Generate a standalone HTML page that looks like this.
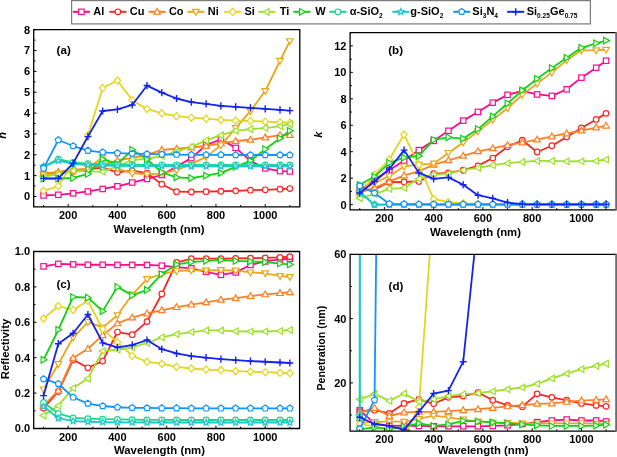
<!DOCTYPE html><html><head><meta charset="utf-8"><style>html,body{margin:0;padding:0;background:#fff;width:617px;height:457px;overflow:hidden}svg{display:block;will-change:transform}text{font-family:"Liberation Sans",sans-serif;font-weight:bold}</style></head><body><svg width="617" height="457" viewBox="0 0 617 457" font-family="Liberation Sans, sans-serif" font-weight="bold">
<rect width="617" height="457" fill="#fff"/>
<clipPath id="clipa"><rect x="33.7" y="29.7" width="266.1" height="177.20000000000002"/></clipPath>
<text x="56.60" y="54.40" font-size="11.6" text-anchor="start" >(a)</text>
<g clip-path="url(#clipa)">
<polyline points="43.55,195.43 58.33,194.81 73.11,193.35 87.89,191.47 102.66,188.97 117.44,186.26 132.22,182.51 147.00,178.96 161.78,175.00 176.55,166.46 191.33,158.12 206.11,144.98 220.89,139.36 235.67,147.90 250.44,160.83 265.22,168.33 280.00,171.04 289.85,171.46" fill="none" stroke="#ff0a8c" stroke-width="1.8" stroke-linejoin="round"/>
<rect x="40.85" y="192.73" width="5.40" height="5.40" stroke="#ff0a8c" stroke-width="1.2" fill="#fff"/>
<rect x="55.63" y="192.11" width="5.40" height="5.40" stroke="#ff0a8c" stroke-width="1.2" fill="#fff"/>
<rect x="70.41" y="190.65" width="5.40" height="5.40" stroke="#ff0a8c" stroke-width="1.2" fill="#fff"/>
<rect x="85.19" y="188.77" width="5.40" height="5.40" stroke="#ff0a8c" stroke-width="1.2" fill="#fff"/>
<rect x="99.96" y="186.27" width="5.40" height="5.40" stroke="#ff0a8c" stroke-width="1.2" fill="#fff"/>
<rect x="114.74" y="183.56" width="5.40" height="5.40" stroke="#ff0a8c" stroke-width="1.2" fill="#fff"/>
<rect x="129.52" y="179.81" width="5.40" height="5.40" stroke="#ff0a8c" stroke-width="1.2" fill="#fff"/>
<rect x="144.30" y="176.26" width="5.40" height="5.40" stroke="#ff0a8c" stroke-width="1.2" fill="#fff"/>
<rect x="159.08" y="172.30" width="5.40" height="5.40" stroke="#ff0a8c" stroke-width="1.2" fill="#fff"/>
<rect x="173.85" y="163.76" width="5.40" height="5.40" stroke="#ff0a8c" stroke-width="1.2" fill="#fff"/>
<rect x="188.63" y="155.42" width="5.40" height="5.40" stroke="#ff0a8c" stroke-width="1.2" fill="#fff"/>
<rect x="203.41" y="142.28" width="5.40" height="5.40" stroke="#ff0a8c" stroke-width="1.2" fill="#fff"/>
<rect x="218.19" y="136.66" width="5.40" height="5.40" stroke="#ff0a8c" stroke-width="1.2" fill="#fff"/>
<rect x="232.97" y="145.20" width="5.40" height="5.40" stroke="#ff0a8c" stroke-width="1.2" fill="#fff"/>
<rect x="247.74" y="158.13" width="5.40" height="5.40" stroke="#ff0a8c" stroke-width="1.2" fill="#fff"/>
<rect x="262.52" y="165.63" width="5.40" height="5.40" stroke="#ff0a8c" stroke-width="1.2" fill="#fff"/>
<rect x="277.30" y="168.34" width="5.40" height="5.40" stroke="#ff0a8c" stroke-width="1.2" fill="#fff"/>
<rect x="287.15" y="168.76" width="5.40" height="5.40" stroke="#ff0a8c" stroke-width="1.2" fill="#fff"/>
<polyline points="43.55,172.92 58.33,173.54 73.11,171.46 87.89,169.38 102.66,167.50 117.44,172.29 132.22,170.63 147.00,173.13 161.78,184.18 176.55,191.68 191.33,191.89 206.11,191.68 220.89,191.26 235.67,190.85 250.44,190.22 265.22,189.81 280.00,189.18 289.85,188.55" fill="none" stroke="#ff2424" stroke-width="1.8" stroke-linejoin="round"/>
<circle cx="43.55" cy="172.92" r="2.8" stroke="#ff2424" stroke-width="1.2" fill="#fff"/>
<circle cx="58.33" cy="173.54" r="2.8" stroke="#ff2424" stroke-width="1.2" fill="#fff"/>
<circle cx="73.11" cy="171.46" r="2.8" stroke="#ff2424" stroke-width="1.2" fill="#fff"/>
<circle cx="87.89" cy="169.38" r="2.8" stroke="#ff2424" stroke-width="1.2" fill="#fff"/>
<circle cx="102.66" cy="167.50" r="2.8" stroke="#ff2424" stroke-width="1.2" fill="#fff"/>
<circle cx="117.44" cy="172.29" r="2.8" stroke="#ff2424" stroke-width="1.2" fill="#fff"/>
<circle cx="132.22" cy="170.63" r="2.8" stroke="#ff2424" stroke-width="1.2" fill="#fff"/>
<circle cx="147.00" cy="173.13" r="2.8" stroke="#ff2424" stroke-width="1.2" fill="#fff"/>
<circle cx="161.78" cy="184.18" r="2.8" stroke="#ff2424" stroke-width="1.2" fill="#fff"/>
<circle cx="176.55" cy="191.68" r="2.8" stroke="#ff2424" stroke-width="1.2" fill="#fff"/>
<circle cx="191.33" cy="191.89" r="2.8" stroke="#ff2424" stroke-width="1.2" fill="#fff"/>
<circle cx="206.11" cy="191.68" r="2.8" stroke="#ff2424" stroke-width="1.2" fill="#fff"/>
<circle cx="220.89" cy="191.26" r="2.8" stroke="#ff2424" stroke-width="1.2" fill="#fff"/>
<circle cx="235.67" cy="190.85" r="2.8" stroke="#ff2424" stroke-width="1.2" fill="#fff"/>
<circle cx="250.44" cy="190.22" r="2.8" stroke="#ff2424" stroke-width="1.2" fill="#fff"/>
<circle cx="265.22" cy="189.81" r="2.8" stroke="#ff2424" stroke-width="1.2" fill="#fff"/>
<circle cx="280.00" cy="189.18" r="2.8" stroke="#ff2424" stroke-width="1.2" fill="#fff"/>
<circle cx="289.85" cy="188.55" r="2.8" stroke="#ff2424" stroke-width="1.2" fill="#fff"/>
<polyline points="43.55,173.54 58.33,171.88 73.11,169.79 87.89,168.75 102.66,165.21 117.44,160.41 132.22,157.91 147.00,154.78 161.78,149.78 176.55,148.74 191.33,147.49 206.11,145.82 220.89,143.32 235.67,141.02 250.44,139.77 265.22,137.48 280.00,135.19 289.85,134.98" fill="none" stroke="#ff8024" stroke-width="1.8" stroke-linejoin="round"/>
<polygon points="43.55,170.14 46.85,175.94 40.25,175.94" stroke="#ff8024" stroke-width="1.2" fill="#fff" stroke-linejoin="miter"/>
<polygon points="58.33,168.48 61.63,174.28 55.03,174.28" stroke="#ff8024" stroke-width="1.2" fill="#fff" stroke-linejoin="miter"/>
<polygon points="73.11,166.39 76.41,172.19 69.81,172.19" stroke="#ff8024" stroke-width="1.2" fill="#fff" stroke-linejoin="miter"/>
<polygon points="87.89,165.35 91.19,171.15 84.59,171.15" stroke="#ff8024" stroke-width="1.2" fill="#fff" stroke-linejoin="miter"/>
<polygon points="102.66,161.81 105.96,167.61 99.36,167.61" stroke="#ff8024" stroke-width="1.2" fill="#fff" stroke-linejoin="miter"/>
<polygon points="117.44,157.01 120.74,162.81 114.14,162.81" stroke="#ff8024" stroke-width="1.2" fill="#fff" stroke-linejoin="miter"/>
<polygon points="132.22,154.51 135.52,160.31 128.92,160.31" stroke="#ff8024" stroke-width="1.2" fill="#fff" stroke-linejoin="miter"/>
<polygon points="147.00,151.38 150.30,157.18 143.70,157.18" stroke="#ff8024" stroke-width="1.2" fill="#fff" stroke-linejoin="miter"/>
<polygon points="161.78,146.38 165.08,152.18 158.48,152.18" stroke="#ff8024" stroke-width="1.2" fill="#fff" stroke-linejoin="miter"/>
<polygon points="176.55,145.34 179.85,151.14 173.25,151.14" stroke="#ff8024" stroke-width="1.2" fill="#fff" stroke-linejoin="miter"/>
<polygon points="191.33,144.09 194.63,149.89 188.03,149.89" stroke="#ff8024" stroke-width="1.2" fill="#fff" stroke-linejoin="miter"/>
<polygon points="206.11,142.42 209.41,148.22 202.81,148.22" stroke="#ff8024" stroke-width="1.2" fill="#fff" stroke-linejoin="miter"/>
<polygon points="220.89,139.92 224.19,145.72 217.59,145.72" stroke="#ff8024" stroke-width="1.2" fill="#fff" stroke-linejoin="miter"/>
<polygon points="235.67,137.62 238.97,143.42 232.37,143.42" stroke="#ff8024" stroke-width="1.2" fill="#fff" stroke-linejoin="miter"/>
<polygon points="250.44,136.37 253.74,142.17 247.14,142.17" stroke="#ff8024" stroke-width="1.2" fill="#fff" stroke-linejoin="miter"/>
<polygon points="265.22,134.08 268.52,139.88 261.92,139.88" stroke="#ff8024" stroke-width="1.2" fill="#fff" stroke-linejoin="miter"/>
<polygon points="280.00,131.79 283.30,137.59 276.70,137.59" stroke="#ff8024" stroke-width="1.2" fill="#fff" stroke-linejoin="miter"/>
<polygon points="289.85,131.58 293.15,137.38 286.55,137.38" stroke="#ff8024" stroke-width="1.2" fill="#fff" stroke-linejoin="miter"/>
<polyline points="43.55,174.59 58.33,173.54 73.11,171.46 87.89,168.33 102.66,157.28 117.44,168.54 132.22,173.34 147.00,174.38 161.78,173.54 176.55,170.21 191.33,164.16 206.11,156.87 220.89,145.40 235.67,128.10 250.44,111.21 265.22,90.99 280.00,60.76 289.85,41.17" fill="none" stroke="#e9a81c" stroke-width="1.8" stroke-linejoin="round"/>
<polygon points="43.55,177.99 46.85,172.19 40.25,172.19" stroke="#e9a81c" stroke-width="1.2" fill="#fff" stroke-linejoin="miter"/>
<polygon points="58.33,176.94 61.63,171.14 55.03,171.14" stroke="#e9a81c" stroke-width="1.2" fill="#fff" stroke-linejoin="miter"/>
<polygon points="73.11,174.86 76.41,169.06 69.81,169.06" stroke="#e9a81c" stroke-width="1.2" fill="#fff" stroke-linejoin="miter"/>
<polygon points="87.89,171.73 91.19,165.93 84.59,165.93" stroke="#e9a81c" stroke-width="1.2" fill="#fff" stroke-linejoin="miter"/>
<polygon points="102.66,160.68 105.96,154.88 99.36,154.88" stroke="#e9a81c" stroke-width="1.2" fill="#fff" stroke-linejoin="miter"/>
<polygon points="117.44,171.94 120.74,166.14 114.14,166.14" stroke="#e9a81c" stroke-width="1.2" fill="#fff" stroke-linejoin="miter"/>
<polygon points="132.22,176.74 135.52,170.94 128.92,170.94" stroke="#e9a81c" stroke-width="1.2" fill="#fff" stroke-linejoin="miter"/>
<polygon points="147.00,177.78 150.30,171.98 143.70,171.98" stroke="#e9a81c" stroke-width="1.2" fill="#fff" stroke-linejoin="miter"/>
<polygon points="161.78,176.94 165.08,171.14 158.48,171.14" stroke="#e9a81c" stroke-width="1.2" fill="#fff" stroke-linejoin="miter"/>
<polygon points="176.55,173.61 179.85,167.81 173.25,167.81" stroke="#e9a81c" stroke-width="1.2" fill="#fff" stroke-linejoin="miter"/>
<polygon points="191.33,167.56 194.63,161.76 188.03,161.76" stroke="#e9a81c" stroke-width="1.2" fill="#fff" stroke-linejoin="miter"/>
<polygon points="206.11,160.27 209.41,154.47 202.81,154.47" stroke="#e9a81c" stroke-width="1.2" fill="#fff" stroke-linejoin="miter"/>
<polygon points="220.89,148.80 224.19,143.00 217.59,143.00" stroke="#e9a81c" stroke-width="1.2" fill="#fff" stroke-linejoin="miter"/>
<polygon points="235.67,131.50 238.97,125.70 232.37,125.70" stroke="#e9a81c" stroke-width="1.2" fill="#fff" stroke-linejoin="miter"/>
<polygon points="250.44,114.61 253.74,108.81 247.14,108.81" stroke="#e9a81c" stroke-width="1.2" fill="#fff" stroke-linejoin="miter"/>
<polygon points="265.22,94.39 268.52,88.59 261.92,88.59" stroke="#e9a81c" stroke-width="1.2" fill="#fff" stroke-linejoin="miter"/>
<polygon points="280.00,64.16 283.30,58.36 276.70,58.36" stroke="#e9a81c" stroke-width="1.2" fill="#fff" stroke-linejoin="miter"/>
<polygon points="289.85,44.57 293.15,38.77 286.55,38.77" stroke="#e9a81c" stroke-width="1.2" fill="#fff" stroke-linejoin="miter"/>
<polyline points="43.55,190.85 58.33,186.05 73.11,163.12 87.89,135.39 102.66,88.07 117.44,80.57 132.22,100.16 147.00,108.92 161.78,113.30 176.55,116.22 191.33,117.67 206.11,118.72 220.89,119.97 235.67,120.59 250.44,121.01 265.22,121.64 280.00,122.26 289.85,122.68" fill="none" stroke="#e4d61e" stroke-width="1.8" stroke-linejoin="round"/>
<polygon points="43.55,187.25 46.85,190.85 43.55,194.45 40.25,190.85" stroke="#e4d61e" stroke-width="1.2" fill="#fff" stroke-linejoin="miter"/>
<polygon points="58.33,182.45 61.63,186.05 58.33,189.65 55.03,186.05" stroke="#e4d61e" stroke-width="1.2" fill="#fff" stroke-linejoin="miter"/>
<polygon points="73.11,159.52 76.41,163.12 73.11,166.72 69.81,163.12" stroke="#e4d61e" stroke-width="1.2" fill="#fff" stroke-linejoin="miter"/>
<polygon points="87.89,131.79 91.19,135.39 87.89,138.99 84.59,135.39" stroke="#e4d61e" stroke-width="1.2" fill="#fff" stroke-linejoin="miter"/>
<polygon points="102.66,84.47 105.96,88.07 102.66,91.67 99.36,88.07" stroke="#e4d61e" stroke-width="1.2" fill="#fff" stroke-linejoin="miter"/>
<polygon points="117.44,76.97 120.74,80.57 117.44,84.17 114.14,80.57" stroke="#e4d61e" stroke-width="1.2" fill="#fff" stroke-linejoin="miter"/>
<polygon points="132.22,96.56 135.52,100.16 132.22,103.76 128.92,100.16" stroke="#e4d61e" stroke-width="1.2" fill="#fff" stroke-linejoin="miter"/>
<polygon points="147.00,105.32 150.30,108.92 147.00,112.52 143.70,108.92" stroke="#e4d61e" stroke-width="1.2" fill="#fff" stroke-linejoin="miter"/>
<polygon points="161.78,109.70 165.08,113.30 161.78,116.90 158.48,113.30" stroke="#e4d61e" stroke-width="1.2" fill="#fff" stroke-linejoin="miter"/>
<polygon points="176.55,112.62 179.85,116.22 176.55,119.82 173.25,116.22" stroke="#e4d61e" stroke-width="1.2" fill="#fff" stroke-linejoin="miter"/>
<polygon points="191.33,114.07 194.63,117.67 191.33,121.27 188.03,117.67" stroke="#e4d61e" stroke-width="1.2" fill="#fff" stroke-linejoin="miter"/>
<polygon points="206.11,115.12 209.41,118.72 206.11,122.32 202.81,118.72" stroke="#e4d61e" stroke-width="1.2" fill="#fff" stroke-linejoin="miter"/>
<polygon points="220.89,116.37 224.19,119.97 220.89,123.57 217.59,119.97" stroke="#e4d61e" stroke-width="1.2" fill="#fff" stroke-linejoin="miter"/>
<polygon points="235.67,116.99 238.97,120.59 235.67,124.19 232.37,120.59" stroke="#e4d61e" stroke-width="1.2" fill="#fff" stroke-linejoin="miter"/>
<polygon points="250.44,117.41 253.74,121.01 250.44,124.61 247.14,121.01" stroke="#e4d61e" stroke-width="1.2" fill="#fff" stroke-linejoin="miter"/>
<polygon points="265.22,118.04 268.52,121.64 265.22,125.24 261.92,121.64" stroke="#e4d61e" stroke-width="1.2" fill="#fff" stroke-linejoin="miter"/>
<polygon points="280.00,118.66 283.30,122.26 280.00,125.86 276.70,122.26" stroke="#e4d61e" stroke-width="1.2" fill="#fff" stroke-linejoin="miter"/>
<polygon points="289.85,119.08 293.15,122.68 289.85,126.28 286.55,122.68" stroke="#e4d61e" stroke-width="1.2" fill="#fff" stroke-linejoin="miter"/>
<polyline points="43.55,176.25 58.33,174.59 73.11,170.63 87.89,171.46 102.66,171.67 117.44,166.25 132.22,159.99 147.00,158.74 161.78,156.03 176.55,151.45 191.33,146.86 206.11,140.40 220.89,135.19 235.67,130.81 250.44,129.14 265.22,128.10 280.00,126.22 289.85,124.14" fill="none" stroke="#9ee02a" stroke-width="1.8" stroke-linejoin="round"/>
<polygon points="40.15,176.25 45.95,172.95 45.95,179.55" stroke="#9ee02a" stroke-width="1.2" fill="#fff" stroke-linejoin="miter"/>
<polygon points="54.93,174.59 60.73,171.29 60.73,177.89" stroke="#9ee02a" stroke-width="1.2" fill="#fff" stroke-linejoin="miter"/>
<polygon points="69.71,170.63 75.51,167.33 75.51,173.93" stroke="#9ee02a" stroke-width="1.2" fill="#fff" stroke-linejoin="miter"/>
<polygon points="84.49,171.46 90.29,168.16 90.29,174.76" stroke="#9ee02a" stroke-width="1.2" fill="#fff" stroke-linejoin="miter"/>
<polygon points="99.26,171.67 105.06,168.37 105.06,174.97" stroke="#9ee02a" stroke-width="1.2" fill="#fff" stroke-linejoin="miter"/>
<polygon points="114.04,166.25 119.84,162.95 119.84,169.55" stroke="#9ee02a" stroke-width="1.2" fill="#fff" stroke-linejoin="miter"/>
<polygon points="128.82,159.99 134.62,156.69 134.62,163.29" stroke="#9ee02a" stroke-width="1.2" fill="#fff" stroke-linejoin="miter"/>
<polygon points="143.60,158.74 149.40,155.44 149.40,162.04" stroke="#9ee02a" stroke-width="1.2" fill="#fff" stroke-linejoin="miter"/>
<polygon points="158.38,156.03 164.18,152.73 164.18,159.33" stroke="#9ee02a" stroke-width="1.2" fill="#fff" stroke-linejoin="miter"/>
<polygon points="173.15,151.45 178.95,148.15 178.95,154.75" stroke="#9ee02a" stroke-width="1.2" fill="#fff" stroke-linejoin="miter"/>
<polygon points="187.93,146.86 193.73,143.56 193.73,150.16" stroke="#9ee02a" stroke-width="1.2" fill="#fff" stroke-linejoin="miter"/>
<polygon points="202.71,140.40 208.51,137.10 208.51,143.70" stroke="#9ee02a" stroke-width="1.2" fill="#fff" stroke-linejoin="miter"/>
<polygon points="217.49,135.19 223.29,131.89 223.29,138.49" stroke="#9ee02a" stroke-width="1.2" fill="#fff" stroke-linejoin="miter"/>
<polygon points="232.27,130.81 238.07,127.51 238.07,134.11" stroke="#9ee02a" stroke-width="1.2" fill="#fff" stroke-linejoin="miter"/>
<polygon points="247.04,129.14 252.84,125.84 252.84,132.44" stroke="#9ee02a" stroke-width="1.2" fill="#fff" stroke-linejoin="miter"/>
<polygon points="261.82,128.10 267.62,124.80 267.62,131.40" stroke="#9ee02a" stroke-width="1.2" fill="#fff" stroke-linejoin="miter"/>
<polygon points="276.60,126.22 282.40,122.92 282.40,129.52" stroke="#9ee02a" stroke-width="1.2" fill="#fff" stroke-linejoin="miter"/>
<polygon points="286.45,124.14 292.25,120.84 292.25,127.44" stroke="#9ee02a" stroke-width="1.2" fill="#fff" stroke-linejoin="miter"/>
<polyline points="43.55,178.76 58.33,178.76 73.11,177.92 87.89,173.96 102.66,159.16 117.44,163.96 132.22,149.78 147.00,159.37 161.78,172.29 176.55,177.30 191.33,178.13 206.11,175.63 220.89,172.92 235.67,166.87 250.44,160.83 265.22,149.15 280.00,138.31 289.85,130.81" fill="none" stroke="#12d012" stroke-width="1.8" stroke-linejoin="round"/>
<polygon points="46.95,178.76 41.15,175.46 41.15,182.06" stroke="#12d012" stroke-width="1.2" fill="#fff" stroke-linejoin="miter"/>
<polygon points="61.73,178.76 55.93,175.46 55.93,182.06" stroke="#12d012" stroke-width="1.2" fill="#fff" stroke-linejoin="miter"/>
<polygon points="76.51,177.92 70.71,174.62 70.71,181.22" stroke="#12d012" stroke-width="1.2" fill="#fff" stroke-linejoin="miter"/>
<polygon points="91.29,173.96 85.49,170.66 85.49,177.26" stroke="#12d012" stroke-width="1.2" fill="#fff" stroke-linejoin="miter"/>
<polygon points="106.06,159.16 100.26,155.86 100.26,162.46" stroke="#12d012" stroke-width="1.2" fill="#fff" stroke-linejoin="miter"/>
<polygon points="120.84,163.96 115.04,160.66 115.04,167.26" stroke="#12d012" stroke-width="1.2" fill="#fff" stroke-linejoin="miter"/>
<polygon points="135.62,149.78 129.82,146.48 129.82,153.08" stroke="#12d012" stroke-width="1.2" fill="#fff" stroke-linejoin="miter"/>
<polygon points="150.40,159.37 144.60,156.07 144.60,162.67" stroke="#12d012" stroke-width="1.2" fill="#fff" stroke-linejoin="miter"/>
<polygon points="165.18,172.29 159.38,168.99 159.38,175.59" stroke="#12d012" stroke-width="1.2" fill="#fff" stroke-linejoin="miter"/>
<polygon points="179.95,177.30 174.15,174.00 174.15,180.60" stroke="#12d012" stroke-width="1.2" fill="#fff" stroke-linejoin="miter"/>
<polygon points="194.73,178.13 188.93,174.83 188.93,181.43" stroke="#12d012" stroke-width="1.2" fill="#fff" stroke-linejoin="miter"/>
<polygon points="209.51,175.63 203.71,172.33 203.71,178.93" stroke="#12d012" stroke-width="1.2" fill="#fff" stroke-linejoin="miter"/>
<polygon points="224.29,172.92 218.49,169.62 218.49,176.22" stroke="#12d012" stroke-width="1.2" fill="#fff" stroke-linejoin="miter"/>
<polygon points="239.07,166.87 233.27,163.57 233.27,170.17" stroke="#12d012" stroke-width="1.2" fill="#fff" stroke-linejoin="miter"/>
<polygon points="253.84,160.83 248.04,157.53 248.04,164.13" stroke="#12d012" stroke-width="1.2" fill="#fff" stroke-linejoin="miter"/>
<polygon points="268.62,149.15 262.82,145.85 262.82,152.45" stroke="#12d012" stroke-width="1.2" fill="#fff" stroke-linejoin="miter"/>
<polygon points="283.40,138.31 277.60,135.01 277.60,141.61" stroke="#12d012" stroke-width="1.2" fill="#fff" stroke-linejoin="miter"/>
<polygon points="293.25,130.81 287.45,127.51 287.45,134.11" stroke="#12d012" stroke-width="1.2" fill="#fff" stroke-linejoin="miter"/>
<polyline points="43.55,166.87 58.33,159.16 73.11,162.50 87.89,163.75 102.66,164.37 117.44,164.58 132.22,164.68 147.00,164.79 161.78,164.79 176.55,164.79 191.33,164.89 206.11,164.89 220.89,164.89 235.67,164.89 250.44,164.89 265.22,164.89 280.00,164.89 289.85,164.89" fill="none" stroke="#1cd68c" stroke-width="1.8" stroke-linejoin="round"/>
<circle cx="43.55" cy="166.87" r="2.8" stroke="#1cd68c" stroke-width="1.2" fill="#fff"/>
<circle cx="58.33" cy="159.16" r="2.8" stroke="#1cd68c" stroke-width="1.2" fill="#fff"/>
<circle cx="73.11" cy="162.50" r="2.8" stroke="#1cd68c" stroke-width="1.2" fill="#fff"/>
<circle cx="87.89" cy="163.75" r="2.8" stroke="#1cd68c" stroke-width="1.2" fill="#fff"/>
<circle cx="102.66" cy="164.37" r="2.8" stroke="#1cd68c" stroke-width="1.2" fill="#fff"/>
<circle cx="117.44" cy="164.58" r="2.8" stroke="#1cd68c" stroke-width="1.2" fill="#fff"/>
<circle cx="132.22" cy="164.68" r="2.8" stroke="#1cd68c" stroke-width="1.2" fill="#fff"/>
<circle cx="147.00" cy="164.79" r="2.8" stroke="#1cd68c" stroke-width="1.2" fill="#fff"/>
<circle cx="161.78" cy="164.79" r="2.8" stroke="#1cd68c" stroke-width="1.2" fill="#fff"/>
<circle cx="176.55" cy="164.79" r="2.8" stroke="#1cd68c" stroke-width="1.2" fill="#fff"/>
<circle cx="191.33" cy="164.89" r="2.8" stroke="#1cd68c" stroke-width="1.2" fill="#fff"/>
<circle cx="206.11" cy="164.89" r="2.8" stroke="#1cd68c" stroke-width="1.2" fill="#fff"/>
<circle cx="220.89" cy="164.89" r="2.8" stroke="#1cd68c" stroke-width="1.2" fill="#fff"/>
<circle cx="235.67" cy="164.89" r="2.8" stroke="#1cd68c" stroke-width="1.2" fill="#fff"/>
<circle cx="250.44" cy="164.89" r="2.8" stroke="#1cd68c" stroke-width="1.2" fill="#fff"/>
<circle cx="265.22" cy="164.89" r="2.8" stroke="#1cd68c" stroke-width="1.2" fill="#fff"/>
<circle cx="280.00" cy="164.89" r="2.8" stroke="#1cd68c" stroke-width="1.2" fill="#fff"/>
<circle cx="289.85" cy="164.89" r="2.8" stroke="#1cd68c" stroke-width="1.2" fill="#fff"/>
<polyline points="43.55,166.25 58.33,160.62 73.11,163.75 87.89,165.00 102.66,165.62 117.44,165.83 132.22,166.04 147.00,166.14 161.78,166.14 176.55,166.25 191.33,166.25 206.11,166.25 220.89,166.25 235.67,166.25 250.44,166.25 265.22,166.25 280.00,166.25 289.85,166.25" fill="none" stroke="#1cc6d0" stroke-width="1.8" stroke-linejoin="round"/>
<polygon points="43.55,163.05 44.37,165.12 46.60,165.26 44.88,166.68 45.43,168.84 43.55,167.65 41.67,168.84 42.22,166.68 40.51,165.26 42.73,165.12" stroke="#1cc6d0" stroke-width="1.2" fill="#fff" stroke-linejoin="miter"/>
<polygon points="58.33,157.42 59.15,159.49 61.37,159.63 59.66,161.05 60.21,163.21 58.33,162.02 56.45,163.21 57.00,161.05 55.29,159.63 57.51,159.49" stroke="#1cc6d0" stroke-width="1.2" fill="#fff" stroke-linejoin="miter"/>
<polygon points="73.11,160.55 73.93,162.61 76.15,162.76 74.44,164.18 74.99,166.34 73.11,165.15 71.23,166.34 71.78,164.18 70.06,162.76 72.29,162.61" stroke="#1cc6d0" stroke-width="1.2" fill="#fff" stroke-linejoin="miter"/>
<polygon points="87.89,161.80 88.71,163.86 90.93,164.01 89.22,165.43 89.77,167.59 87.89,166.40 86.01,167.59 86.55,165.43 84.84,164.01 87.06,163.86" stroke="#1cc6d0" stroke-width="1.2" fill="#fff" stroke-linejoin="miter"/>
<polygon points="102.66,162.42 103.49,164.49 105.71,164.63 104.00,166.06 104.54,168.21 102.66,167.02 100.78,168.21 101.33,166.06 99.62,164.63 101.84,164.49" stroke="#1cc6d0" stroke-width="1.2" fill="#fff" stroke-linejoin="miter"/>
<polygon points="117.44,162.63 118.26,164.70 120.49,164.84 118.77,166.26 119.32,168.42 117.44,167.23 115.56,168.42 116.11,166.26 114.40,164.84 116.62,164.70" stroke="#1cc6d0" stroke-width="1.2" fill="#fff" stroke-linejoin="miter"/>
<polygon points="132.22,162.84 133.04,164.91 135.26,165.05 133.55,166.47 134.10,168.63 132.22,167.44 130.34,168.63 130.89,166.47 129.18,165.05 131.40,164.91" stroke="#1cc6d0" stroke-width="1.2" fill="#fff" stroke-linejoin="miter"/>
<polygon points="147.00,162.94 147.82,165.01 150.04,165.16 148.33,166.58 148.88,168.73 147.00,167.54 145.12,168.73 145.67,166.58 143.95,165.16 146.18,165.01" stroke="#1cc6d0" stroke-width="1.2" fill="#fff" stroke-linejoin="miter"/>
<polygon points="161.78,162.94 162.60,165.01 164.82,165.16 163.11,166.58 163.66,168.73 161.78,167.54 159.90,168.73 160.44,166.58 158.73,165.16 160.95,165.01" stroke="#1cc6d0" stroke-width="1.2" fill="#fff" stroke-linejoin="miter"/>
<polygon points="176.55,163.05 177.38,165.12 179.60,165.26 177.89,166.68 178.43,168.84 176.55,167.65 174.67,168.84 175.22,166.68 173.51,165.26 175.73,165.12" stroke="#1cc6d0" stroke-width="1.2" fill="#fff" stroke-linejoin="miter"/>
<polygon points="191.33,163.05 192.15,165.12 194.38,165.26 192.66,166.68 193.21,168.84 191.33,167.65 189.45,168.84 190.00,166.68 188.29,165.26 190.51,165.12" stroke="#1cc6d0" stroke-width="1.2" fill="#fff" stroke-linejoin="miter"/>
<polygon points="206.11,163.05 206.93,165.12 209.15,165.26 207.44,166.68 207.99,168.84 206.11,167.65 204.23,168.84 204.78,166.68 203.07,165.26 205.29,165.12" stroke="#1cc6d0" stroke-width="1.2" fill="#fff" stroke-linejoin="miter"/>
<polygon points="220.89,163.05 221.71,165.12 223.93,165.26 222.22,166.68 222.77,168.84 220.89,167.65 219.01,168.84 219.56,166.68 217.84,165.26 220.07,165.12" stroke="#1cc6d0" stroke-width="1.2" fill="#fff" stroke-linejoin="miter"/>
<polygon points="235.67,163.05 236.49,165.12 238.71,165.26 237.00,166.68 237.55,168.84 235.67,167.65 233.79,168.84 234.33,166.68 232.62,165.26 234.84,165.12" stroke="#1cc6d0" stroke-width="1.2" fill="#fff" stroke-linejoin="miter"/>
<polygon points="250.44,163.05 251.27,165.12 253.49,165.26 251.78,166.68 252.32,168.84 250.44,167.65 248.56,168.84 249.11,166.68 247.40,165.26 249.62,165.12" stroke="#1cc6d0" stroke-width="1.2" fill="#fff" stroke-linejoin="miter"/>
<polygon points="265.22,163.05 266.04,165.12 268.27,165.26 266.55,166.68 267.10,168.84 265.22,167.65 263.34,168.84 263.89,166.68 262.18,165.26 264.40,165.12" stroke="#1cc6d0" stroke-width="1.2" fill="#fff" stroke-linejoin="miter"/>
<polygon points="280.00,163.05 280.82,165.12 283.04,165.26 281.33,166.68 281.88,168.84 280.00,167.65 278.12,168.84 278.67,166.68 276.96,165.26 279.18,165.12" stroke="#1cc6d0" stroke-width="1.2" fill="#fff" stroke-linejoin="miter"/>
<polygon points="289.85,163.05 290.67,165.12 292.90,165.26 291.18,166.68 291.73,168.84 289.85,167.65 287.97,168.84 288.52,166.68 286.81,165.26 289.03,165.12" stroke="#1cc6d0" stroke-width="1.2" fill="#fff" stroke-linejoin="miter"/>
<polyline points="43.55,168.33 58.33,139.98 73.11,146.03 87.89,150.61 102.66,152.28 117.44,153.11 132.22,153.53 147.00,153.95 161.78,154.37 176.55,154.57 191.33,154.78 206.11,154.78 220.89,154.78 235.67,154.99 250.44,154.99 265.22,154.99 280.00,154.99 289.85,154.99" fill="none" stroke="#1294ff" stroke-width="1.8" stroke-linejoin="round"/>
<polygon points="43.55,165.03 46.69,167.31 45.49,171.00 41.61,171.00 40.41,167.31" stroke="#1294ff" stroke-width="1.2" fill="#fff" stroke-linejoin="miter"/>
<polygon points="58.33,136.68 61.47,138.96 60.27,142.65 56.39,142.65 55.19,138.96" stroke="#1294ff" stroke-width="1.2" fill="#fff" stroke-linejoin="miter"/>
<polygon points="73.11,142.73 76.25,145.01 75.05,148.70 71.17,148.70 69.97,145.01" stroke="#1294ff" stroke-width="1.2" fill="#fff" stroke-linejoin="miter"/>
<polygon points="87.89,147.31 91.02,149.59 89.83,153.28 85.95,153.28 84.75,149.59" stroke="#1294ff" stroke-width="1.2" fill="#fff" stroke-linejoin="miter"/>
<polygon points="102.66,148.98 105.80,151.26 104.60,154.95 100.72,154.95 99.53,151.26" stroke="#1294ff" stroke-width="1.2" fill="#fff" stroke-linejoin="miter"/>
<polygon points="117.44,149.81 120.58,152.09 119.38,155.78 115.50,155.78 114.30,152.09" stroke="#1294ff" stroke-width="1.2" fill="#fff" stroke-linejoin="miter"/>
<polygon points="132.22,150.23 135.36,152.51 134.16,156.20 130.28,156.20 129.08,152.51" stroke="#1294ff" stroke-width="1.2" fill="#fff" stroke-linejoin="miter"/>
<polygon points="147.00,150.65 150.14,152.93 148.94,156.62 145.06,156.62 143.86,152.93" stroke="#1294ff" stroke-width="1.2" fill="#fff" stroke-linejoin="miter"/>
<polygon points="161.78,151.07 164.91,153.35 163.72,157.04 159.84,157.04 158.64,153.35" stroke="#1294ff" stroke-width="1.2" fill="#fff" stroke-linejoin="miter"/>
<polygon points="176.55,151.27 179.69,153.55 178.49,157.24 174.61,157.24 173.42,153.55" stroke="#1294ff" stroke-width="1.2" fill="#fff" stroke-linejoin="miter"/>
<polygon points="191.33,151.48 194.47,153.76 193.27,157.45 189.39,157.45 188.19,153.76" stroke="#1294ff" stroke-width="1.2" fill="#fff" stroke-linejoin="miter"/>
<polygon points="206.11,151.48 209.25,153.76 208.05,157.45 204.17,157.45 202.97,153.76" stroke="#1294ff" stroke-width="1.2" fill="#fff" stroke-linejoin="miter"/>
<polygon points="220.89,151.48 224.03,153.76 222.83,157.45 218.95,157.45 217.75,153.76" stroke="#1294ff" stroke-width="1.2" fill="#fff" stroke-linejoin="miter"/>
<polygon points="235.67,151.69 238.80,153.97 237.61,157.66 233.73,157.66 232.53,153.97" stroke="#1294ff" stroke-width="1.2" fill="#fff" stroke-linejoin="miter"/>
<polygon points="250.44,151.69 253.58,153.97 252.38,157.66 248.50,157.66 247.31,153.97" stroke="#1294ff" stroke-width="1.2" fill="#fff" stroke-linejoin="miter"/>
<polygon points="265.22,151.69 268.36,153.97 267.16,157.66 263.28,157.66 262.08,153.97" stroke="#1294ff" stroke-width="1.2" fill="#fff" stroke-linejoin="miter"/>
<polygon points="280.00,151.69 283.14,153.97 281.94,157.66 278.06,157.66 276.86,153.97" stroke="#1294ff" stroke-width="1.2" fill="#fff" stroke-linejoin="miter"/>
<polygon points="289.85,151.69 292.99,153.97 291.79,157.66 287.91,157.66 286.71,153.97" stroke="#1294ff" stroke-width="1.2" fill="#fff" stroke-linejoin="miter"/>
<polyline points="43.55,178.34 58.33,178.34 73.11,163.33 87.89,136.65 102.66,111.00 117.44,109.34 132.22,104.96 147.00,85.57 161.78,92.66 176.55,98.50 191.33,102.04 206.11,103.92 220.89,105.79 235.67,106.83 250.44,107.88 265.22,108.92 280.00,109.96 289.85,110.59" fill="none" stroke="#1424f0" stroke-width="1.8" stroke-linejoin="round"/>
<path d="M40.15 178.34H46.95M43.55 174.74V181.94" stroke="#1424f0" stroke-width="1.4" fill="none"/>
<path d="M54.93 178.34H61.73M58.33 174.74V181.94" stroke="#1424f0" stroke-width="1.4" fill="none"/>
<path d="M69.71 163.33H76.51M73.11 159.73V166.93" stroke="#1424f0" stroke-width="1.4" fill="none"/>
<path d="M84.49 136.65H91.29M87.89 133.05V140.25" stroke="#1424f0" stroke-width="1.4" fill="none"/>
<path d="M99.26 111.00H106.06M102.66 107.40V114.60" stroke="#1424f0" stroke-width="1.4" fill="none"/>
<path d="M114.04 109.34H120.84M117.44 105.74V112.94" stroke="#1424f0" stroke-width="1.4" fill="none"/>
<path d="M128.82 104.96H135.62M132.22 101.36V108.56" stroke="#1424f0" stroke-width="1.4" fill="none"/>
<path d="M143.60 85.57H150.40M147.00 81.97V89.17" stroke="#1424f0" stroke-width="1.4" fill="none"/>
<path d="M158.38 92.66H165.18M161.78 89.06V96.26" stroke="#1424f0" stroke-width="1.4" fill="none"/>
<path d="M173.15 98.50H179.95M176.55 94.90V102.10" stroke="#1424f0" stroke-width="1.4" fill="none"/>
<path d="M187.93 102.04H194.73M191.33 98.44V105.64" stroke="#1424f0" stroke-width="1.4" fill="none"/>
<path d="M202.71 103.92H209.51M206.11 100.32V107.52" stroke="#1424f0" stroke-width="1.4" fill="none"/>
<path d="M217.49 105.79H224.29M220.89 102.19V109.39" stroke="#1424f0" stroke-width="1.4" fill="none"/>
<path d="M232.27 106.83H239.07M235.67 103.23V110.43" stroke="#1424f0" stroke-width="1.4" fill="none"/>
<path d="M247.04 107.88H253.84M250.44 104.28V111.48" stroke="#1424f0" stroke-width="1.4" fill="none"/>
<path d="M261.82 108.92H268.62M265.22 105.32V112.52" stroke="#1424f0" stroke-width="1.4" fill="none"/>
<path d="M276.60 109.96H283.40M280.00 106.36V113.56" stroke="#1424f0" stroke-width="1.4" fill="none"/>
<path d="M286.45 110.59H293.25M289.85 106.99V114.19" stroke="#1424f0" stroke-width="1.4" fill="none"/>
</g>
<path d="M33.7 29.7H299.8V206.9H33.7Z" fill="none" stroke="#000" stroke-width="1.3"/>
<text x="68.18" y="219.20" font-size="11" text-anchor="middle" >200</text>
<text x="117.44" y="219.20" font-size="11" text-anchor="middle" >400</text>
<text x="166.70" y="219.20" font-size="11" text-anchor="middle" >600</text>
<text x="215.96" y="219.20" font-size="11" text-anchor="middle" >800</text>
<text x="265.22" y="219.20" font-size="11" text-anchor="middle" >1000</text>
<text x="30.10" y="200.38" font-size="11" text-anchor="end" >0</text>
<text x="30.10" y="179.53" font-size="11" text-anchor="end" >1</text>
<text x="30.10" y="158.68" font-size="11" text-anchor="end" >2</text>
<text x="30.10" y="137.84" font-size="11" text-anchor="end" >3</text>
<text x="30.10" y="116.99" font-size="11" text-anchor="end" >4</text>
<text x="30.10" y="96.14" font-size="11" text-anchor="end" >5</text>
<text x="30.10" y="75.29" font-size="11" text-anchor="end" >6</text>
<text x="30.10" y="54.45" font-size="11" text-anchor="end" >7</text>
<text x="30.10" y="33.60" font-size="11" text-anchor="end" >8</text>
<path d="M43.55 206.90v-1.8 M68.18 206.90v-2.8 M92.81 206.90v-1.8 M117.44 206.90v-2.8 M142.07 206.90v-1.8 M166.70 206.90v-2.8 M191.33 206.90v-1.8 M215.96 206.90v-2.8 M240.59 206.90v-1.8 M265.22 206.90v-2.8 M289.85 206.90v-1.8 M33.70 196.48h2.8 M33.70 186.05h1.8 M33.70 175.63h2.8 M33.70 165.21h1.8 M33.70 154.78h2.8 M33.70 144.36h1.8 M33.70 133.94h2.8 M33.70 123.51h1.8 M33.70 113.09h2.8 M33.70 102.66h1.8 M33.70 92.24h2.8 M33.70 81.82h1.8 M33.70 71.39h2.8 M33.70 60.97h1.8 M33.70 50.55h2.8 M33.70 40.12h1.8 M33.70 29.70h2.8" stroke="#000" stroke-width="1"/>
<text x="113.60" y="233.40" font-size="11.35" text-anchor="start" >Wavelength (nm)</text>
<text transform="translate(5.6,135.5) rotate(-90)" font-size="11" text-anchor="middle" font-style="italic">n</text>
<clipPath id="clipb"><rect x="350.1" y="32.7" width="266.1" height="177.2"/></clipPath>
<text x="388.20" y="54.00" font-size="11.6" text-anchor="start" >(b)</text>
<g clip-path="url(#clipb)">
<polyline points="359.75,190.59 374.53,179.49 389.31,170.23 404.09,160.57 418.86,150.13 433.64,140.87 448.42,130.82 463.20,120.64 477.98,111.91 492.75,102.65 507.53,94.85 522.31,90.89 537.09,94.46 551.87,95.91 566.64,89.30 581.42,77.66 596.20,67.74 606.05,60.73" fill="none" stroke="#ff0a8c" stroke-width="1.8" stroke-linejoin="round"/>
<rect x="357.05" y="187.89" width="5.40" height="5.40" stroke="#ff0a8c" stroke-width="1.2" fill="#fff"/>
<rect x="371.83" y="176.79" width="5.40" height="5.40" stroke="#ff0a8c" stroke-width="1.2" fill="#fff"/>
<rect x="386.61" y="167.53" width="5.40" height="5.40" stroke="#ff0a8c" stroke-width="1.2" fill="#fff"/>
<rect x="401.39" y="157.87" width="5.40" height="5.40" stroke="#ff0a8c" stroke-width="1.2" fill="#fff"/>
<rect x="416.16" y="147.43" width="5.40" height="5.40" stroke="#ff0a8c" stroke-width="1.2" fill="#fff"/>
<rect x="430.94" y="138.17" width="5.40" height="5.40" stroke="#ff0a8c" stroke-width="1.2" fill="#fff"/>
<rect x="445.72" y="128.12" width="5.40" height="5.40" stroke="#ff0a8c" stroke-width="1.2" fill="#fff"/>
<rect x="460.50" y="117.94" width="5.40" height="5.40" stroke="#ff0a8c" stroke-width="1.2" fill="#fff"/>
<rect x="475.28" y="109.21" width="5.40" height="5.40" stroke="#ff0a8c" stroke-width="1.2" fill="#fff"/>
<rect x="490.05" y="99.95" width="5.40" height="5.40" stroke="#ff0a8c" stroke-width="1.2" fill="#fff"/>
<rect x="504.83" y="92.15" width="5.40" height="5.40" stroke="#ff0a8c" stroke-width="1.2" fill="#fff"/>
<rect x="519.61" y="88.19" width="5.40" height="5.40" stroke="#ff0a8c" stroke-width="1.2" fill="#fff"/>
<rect x="534.39" y="91.76" width="5.40" height="5.40" stroke="#ff0a8c" stroke-width="1.2" fill="#fff"/>
<rect x="549.17" y="93.21" width="5.40" height="5.40" stroke="#ff0a8c" stroke-width="1.2" fill="#fff"/>
<rect x="563.94" y="86.60" width="5.40" height="5.40" stroke="#ff0a8c" stroke-width="1.2" fill="#fff"/>
<rect x="578.72" y="74.96" width="5.40" height="5.40" stroke="#ff0a8c" stroke-width="1.2" fill="#fff"/>
<rect x="593.50" y="65.04" width="5.40" height="5.40" stroke="#ff0a8c" stroke-width="1.2" fill="#fff"/>
<rect x="603.35" y="58.03" width="5.40" height="5.40" stroke="#ff0a8c" stroke-width="1.2" fill="#fff"/>
<polyline points="359.75,191.39 374.53,189.14 389.31,182.26 404.09,182.00 418.86,181.47 433.64,173.67 448.42,172.87 463.20,170.23 477.98,165.86 492.75,158.06 507.53,146.82 522.31,140.21 537.09,151.98 551.87,145.76 566.64,136.90 581.42,127.91 596.20,119.45 606.05,113.37" fill="none" stroke="#ff2424" stroke-width="1.8" stroke-linejoin="round"/>
<circle cx="359.75" cy="191.39" r="2.8" stroke="#ff2424" stroke-width="1.2" fill="#fff"/>
<circle cx="374.53" cy="189.14" r="2.8" stroke="#ff2424" stroke-width="1.2" fill="#fff"/>
<circle cx="389.31" cy="182.26" r="2.8" stroke="#ff2424" stroke-width="1.2" fill="#fff"/>
<circle cx="404.09" cy="182.00" r="2.8" stroke="#ff2424" stroke-width="1.2" fill="#fff"/>
<circle cx="418.86" cy="181.47" r="2.8" stroke="#ff2424" stroke-width="1.2" fill="#fff"/>
<circle cx="433.64" cy="173.67" r="2.8" stroke="#ff2424" stroke-width="1.2" fill="#fff"/>
<circle cx="448.42" cy="172.87" r="2.8" stroke="#ff2424" stroke-width="1.2" fill="#fff"/>
<circle cx="463.20" cy="170.23" r="2.8" stroke="#ff2424" stroke-width="1.2" fill="#fff"/>
<circle cx="477.98" cy="165.86" r="2.8" stroke="#ff2424" stroke-width="1.2" fill="#fff"/>
<circle cx="492.75" cy="158.06" r="2.8" stroke="#ff2424" stroke-width="1.2" fill="#fff"/>
<circle cx="507.53" cy="146.82" r="2.8" stroke="#ff2424" stroke-width="1.2" fill="#fff"/>
<circle cx="522.31" cy="140.21" r="2.8" stroke="#ff2424" stroke-width="1.2" fill="#fff"/>
<circle cx="537.09" cy="151.98" r="2.8" stroke="#ff2424" stroke-width="1.2" fill="#fff"/>
<circle cx="551.87" cy="145.76" r="2.8" stroke="#ff2424" stroke-width="1.2" fill="#fff"/>
<circle cx="566.64" cy="136.90" r="2.8" stroke="#ff2424" stroke-width="1.2" fill="#fff"/>
<circle cx="581.42" cy="127.91" r="2.8" stroke="#ff2424" stroke-width="1.2" fill="#fff"/>
<circle cx="596.20" cy="119.45" r="2.8" stroke="#ff2424" stroke-width="1.2" fill="#fff"/>
<circle cx="606.05" cy="113.37" r="2.8" stroke="#ff2424" stroke-width="1.2" fill="#fff"/>
<polyline points="359.75,192.05 374.53,187.82 389.31,181.60 404.09,175.39 418.86,171.29 433.64,164.67 448.42,160.31 463.20,155.81 477.98,151.32 492.75,148.28 507.53,145.10 522.31,142.46 537.09,139.55 551.87,136.38 566.64,133.47 581.42,130.56 596.20,127.52 606.05,125.66" fill="none" stroke="#ff8024" stroke-width="1.8" stroke-linejoin="round"/>
<polygon points="359.75,188.65 363.05,194.45 356.45,194.45" stroke="#ff8024" stroke-width="1.2" fill="#fff" stroke-linejoin="miter"/>
<polygon points="374.53,184.42 377.83,190.22 371.23,190.22" stroke="#ff8024" stroke-width="1.2" fill="#fff" stroke-linejoin="miter"/>
<polygon points="389.31,178.20 392.61,184.00 386.01,184.00" stroke="#ff8024" stroke-width="1.2" fill="#fff" stroke-linejoin="miter"/>
<polygon points="404.09,171.99 407.39,177.79 400.79,177.79" stroke="#ff8024" stroke-width="1.2" fill="#fff" stroke-linejoin="miter"/>
<polygon points="418.86,167.89 422.16,173.69 415.56,173.69" stroke="#ff8024" stroke-width="1.2" fill="#fff" stroke-linejoin="miter"/>
<polygon points="433.64,161.27 436.94,167.07 430.34,167.07" stroke="#ff8024" stroke-width="1.2" fill="#fff" stroke-linejoin="miter"/>
<polygon points="448.42,156.91 451.72,162.71 445.12,162.71" stroke="#ff8024" stroke-width="1.2" fill="#fff" stroke-linejoin="miter"/>
<polygon points="463.20,152.41 466.50,158.21 459.90,158.21" stroke="#ff8024" stroke-width="1.2" fill="#fff" stroke-linejoin="miter"/>
<polygon points="477.98,147.92 481.28,153.72 474.68,153.72" stroke="#ff8024" stroke-width="1.2" fill="#fff" stroke-linejoin="miter"/>
<polygon points="492.75,144.88 496.05,150.68 489.45,150.68" stroke="#ff8024" stroke-width="1.2" fill="#fff" stroke-linejoin="miter"/>
<polygon points="507.53,141.70 510.83,147.50 504.23,147.50" stroke="#ff8024" stroke-width="1.2" fill="#fff" stroke-linejoin="miter"/>
<polygon points="522.31,139.06 525.61,144.86 519.01,144.86" stroke="#ff8024" stroke-width="1.2" fill="#fff" stroke-linejoin="miter"/>
<polygon points="537.09,136.15 540.39,141.95 533.79,141.95" stroke="#ff8024" stroke-width="1.2" fill="#fff" stroke-linejoin="miter"/>
<polygon points="551.87,132.98 555.17,138.78 548.57,138.78" stroke="#ff8024" stroke-width="1.2" fill="#fff" stroke-linejoin="miter"/>
<polygon points="566.64,130.07 569.94,135.87 563.34,135.87" stroke="#ff8024" stroke-width="1.2" fill="#fff" stroke-linejoin="miter"/>
<polygon points="581.42,127.16 584.72,132.96 578.12,132.96" stroke="#ff8024" stroke-width="1.2" fill="#fff" stroke-linejoin="miter"/>
<polygon points="596.20,124.12 599.50,129.92 592.90,129.92" stroke="#ff8024" stroke-width="1.2" fill="#fff" stroke-linejoin="miter"/>
<polygon points="606.05,122.26 609.35,128.06 602.75,128.06" stroke="#ff8024" stroke-width="1.2" fill="#fff" stroke-linejoin="miter"/>
<polyline points="359.75,189.14 374.53,182.92 389.31,176.05 404.09,166.39 418.86,164.67 433.64,163.62 448.42,152.91 463.20,142.46 477.98,131.35 492.75,119.71 507.53,108.21 522.31,94.85 537.09,83.61 551.87,72.64 566.64,60.34 581.42,50.29 596.20,50.29 606.05,49.76" fill="none" stroke="#e9a81c" stroke-width="1.8" stroke-linejoin="round"/>
<polygon points="359.75,192.54 363.05,186.74 356.45,186.74" stroke="#e9a81c" stroke-width="1.2" fill="#fff" stroke-linejoin="miter"/>
<polygon points="374.53,186.32 377.83,180.52 371.23,180.52" stroke="#e9a81c" stroke-width="1.2" fill="#fff" stroke-linejoin="miter"/>
<polygon points="389.31,179.45 392.61,173.65 386.01,173.65" stroke="#e9a81c" stroke-width="1.2" fill="#fff" stroke-linejoin="miter"/>
<polygon points="404.09,169.79 407.39,163.99 400.79,163.99" stroke="#e9a81c" stroke-width="1.2" fill="#fff" stroke-linejoin="miter"/>
<polygon points="418.86,168.07 422.16,162.27 415.56,162.27" stroke="#e9a81c" stroke-width="1.2" fill="#fff" stroke-linejoin="miter"/>
<polygon points="433.64,167.02 436.94,161.22 430.34,161.22" stroke="#e9a81c" stroke-width="1.2" fill="#fff" stroke-linejoin="miter"/>
<polygon points="448.42,156.31 451.72,150.51 445.12,150.51" stroke="#e9a81c" stroke-width="1.2" fill="#fff" stroke-linejoin="miter"/>
<polygon points="463.20,145.86 466.50,140.06 459.90,140.06" stroke="#e9a81c" stroke-width="1.2" fill="#fff" stroke-linejoin="miter"/>
<polygon points="477.98,134.75 481.28,128.95 474.68,128.95" stroke="#e9a81c" stroke-width="1.2" fill="#fff" stroke-linejoin="miter"/>
<polygon points="492.75,123.11 496.05,117.31 489.45,117.31" stroke="#e9a81c" stroke-width="1.2" fill="#fff" stroke-linejoin="miter"/>
<polygon points="507.53,111.61 510.83,105.81 504.23,105.81" stroke="#e9a81c" stroke-width="1.2" fill="#fff" stroke-linejoin="miter"/>
<polygon points="522.31,98.25 525.61,92.45 519.01,92.45" stroke="#e9a81c" stroke-width="1.2" fill="#fff" stroke-linejoin="miter"/>
<polygon points="537.09,87.01 540.39,81.21 533.79,81.21" stroke="#e9a81c" stroke-width="1.2" fill="#fff" stroke-linejoin="miter"/>
<polygon points="551.87,76.04 555.17,70.24 548.57,70.24" stroke="#e9a81c" stroke-width="1.2" fill="#fff" stroke-linejoin="miter"/>
<polygon points="566.64,63.74 569.94,57.94 563.34,57.94" stroke="#e9a81c" stroke-width="1.2" fill="#fff" stroke-linejoin="miter"/>
<polygon points="581.42,53.69 584.72,47.89 578.12,47.89" stroke="#e9a81c" stroke-width="1.2" fill="#fff" stroke-linejoin="miter"/>
<polygon points="596.20,53.69 599.50,47.89 592.90,47.89" stroke="#e9a81c" stroke-width="1.2" fill="#fff" stroke-linejoin="miter"/>
<polygon points="606.05,53.16 609.35,47.36 602.75,47.36" stroke="#e9a81c" stroke-width="1.2" fill="#fff" stroke-linejoin="miter"/>
<polyline points="359.75,195.49 374.53,174.72 389.31,159.52 404.09,134.52 418.86,164.81 433.64,199.06 448.42,201.97 463.20,203.29 477.98,203.95 492.75,204.21 507.53,204.35 522.31,204.35 537.09,204.35 551.87,204.35 566.64,204.35 581.42,204.35 596.20,204.35 606.05,204.35" fill="none" stroke="#e4d61e" stroke-width="1.8" stroke-linejoin="round"/>
<polygon points="359.75,191.89 363.05,195.49 359.75,199.09 356.45,195.49" stroke="#e4d61e" stroke-width="1.2" fill="#fff" stroke-linejoin="miter"/>
<polygon points="374.53,171.12 377.83,174.72 374.53,178.32 371.23,174.72" stroke="#e4d61e" stroke-width="1.2" fill="#fff" stroke-linejoin="miter"/>
<polygon points="389.31,155.92 392.61,159.52 389.31,163.12 386.01,159.52" stroke="#e4d61e" stroke-width="1.2" fill="#fff" stroke-linejoin="miter"/>
<polygon points="404.09,130.92 407.39,134.52 404.09,138.12 400.79,134.52" stroke="#e4d61e" stroke-width="1.2" fill="#fff" stroke-linejoin="miter"/>
<polygon points="418.86,161.21 422.16,164.81 418.86,168.41 415.56,164.81" stroke="#e4d61e" stroke-width="1.2" fill="#fff" stroke-linejoin="miter"/>
<polygon points="433.64,195.46 436.94,199.06 433.64,202.66 430.34,199.06" stroke="#e4d61e" stroke-width="1.2" fill="#fff" stroke-linejoin="miter"/>
<polygon points="448.42,198.37 451.72,201.97 448.42,205.57 445.12,201.97" stroke="#e4d61e" stroke-width="1.2" fill="#fff" stroke-linejoin="miter"/>
<polygon points="463.20,199.69 466.50,203.29 463.20,206.89 459.90,203.29" stroke="#e4d61e" stroke-width="1.2" fill="#fff" stroke-linejoin="miter"/>
<polygon points="477.98,200.35 481.28,203.95 477.98,207.55 474.68,203.95" stroke="#e4d61e" stroke-width="1.2" fill="#fff" stroke-linejoin="miter"/>
<polygon points="492.75,200.61 496.05,204.21 492.75,207.81 489.45,204.21" stroke="#e4d61e" stroke-width="1.2" fill="#fff" stroke-linejoin="miter"/>
<polygon points="507.53,200.75 510.83,204.35 507.53,207.95 504.23,204.35" stroke="#e4d61e" stroke-width="1.2" fill="#fff" stroke-linejoin="miter"/>
<polygon points="522.31,200.75 525.61,204.35 522.31,207.95 519.01,204.35" stroke="#e4d61e" stroke-width="1.2" fill="#fff" stroke-linejoin="miter"/>
<polygon points="537.09,200.75 540.39,204.35 537.09,207.95 533.79,204.35" stroke="#e4d61e" stroke-width="1.2" fill="#fff" stroke-linejoin="miter"/>
<polygon points="551.87,200.75 555.17,204.35 551.87,207.95 548.57,204.35" stroke="#e4d61e" stroke-width="1.2" fill="#fff" stroke-linejoin="miter"/>
<polygon points="566.64,200.75 569.94,204.35 566.64,207.95 563.34,204.35" stroke="#e4d61e" stroke-width="1.2" fill="#fff" stroke-linejoin="miter"/>
<polygon points="581.42,200.75 584.72,204.35 581.42,207.95 578.12,204.35" stroke="#e4d61e" stroke-width="1.2" fill="#fff" stroke-linejoin="miter"/>
<polygon points="596.20,200.75 599.50,204.35 596.20,207.95 592.90,204.35" stroke="#e4d61e" stroke-width="1.2" fill="#fff" stroke-linejoin="miter"/>
<polygon points="606.05,200.75 609.35,204.35 606.05,207.95 602.75,204.35" stroke="#e4d61e" stroke-width="1.2" fill="#fff" stroke-linejoin="miter"/>
<polyline points="359.75,198.13 374.53,194.03 389.31,188.87 404.09,187.82 418.86,178.82 433.64,174.72 448.42,173.67 463.20,170.23 477.98,167.98 492.75,165.20 507.53,163.22 522.31,161.90 537.09,160.97 551.87,160.97 566.64,161.37 581.42,161.24 596.20,160.97 606.05,159.52" fill="none" stroke="#9ee02a" stroke-width="1.8" stroke-linejoin="round"/>
<polygon points="356.35,198.13 362.15,194.83 362.15,201.43" stroke="#9ee02a" stroke-width="1.2" fill="#fff" stroke-linejoin="miter"/>
<polygon points="371.13,194.03 376.93,190.73 376.93,197.33" stroke="#9ee02a" stroke-width="1.2" fill="#fff" stroke-linejoin="miter"/>
<polygon points="385.91,188.87 391.71,185.57 391.71,192.17" stroke="#9ee02a" stroke-width="1.2" fill="#fff" stroke-linejoin="miter"/>
<polygon points="400.69,187.82 406.49,184.52 406.49,191.12" stroke="#9ee02a" stroke-width="1.2" fill="#fff" stroke-linejoin="miter"/>
<polygon points="415.46,178.82 421.26,175.52 421.26,182.12" stroke="#9ee02a" stroke-width="1.2" fill="#fff" stroke-linejoin="miter"/>
<polygon points="430.24,174.72 436.04,171.42 436.04,178.02" stroke="#9ee02a" stroke-width="1.2" fill="#fff" stroke-linejoin="miter"/>
<polygon points="445.02,173.67 450.82,170.37 450.82,176.97" stroke="#9ee02a" stroke-width="1.2" fill="#fff" stroke-linejoin="miter"/>
<polygon points="459.80,170.23 465.60,166.93 465.60,173.53" stroke="#9ee02a" stroke-width="1.2" fill="#fff" stroke-linejoin="miter"/>
<polygon points="474.58,167.98 480.38,164.68 480.38,171.28" stroke="#9ee02a" stroke-width="1.2" fill="#fff" stroke-linejoin="miter"/>
<polygon points="489.35,165.20 495.15,161.90 495.15,168.50" stroke="#9ee02a" stroke-width="1.2" fill="#fff" stroke-linejoin="miter"/>
<polygon points="504.13,163.22 509.93,159.92 509.93,166.52" stroke="#9ee02a" stroke-width="1.2" fill="#fff" stroke-linejoin="miter"/>
<polygon points="518.91,161.90 524.71,158.60 524.71,165.20" stroke="#9ee02a" stroke-width="1.2" fill="#fff" stroke-linejoin="miter"/>
<polygon points="533.69,160.97 539.49,157.67 539.49,164.27" stroke="#9ee02a" stroke-width="1.2" fill="#fff" stroke-linejoin="miter"/>
<polygon points="548.47,160.97 554.27,157.67 554.27,164.27" stroke="#9ee02a" stroke-width="1.2" fill="#fff" stroke-linejoin="miter"/>
<polygon points="563.24,161.37 569.04,158.07 569.04,164.67" stroke="#9ee02a" stroke-width="1.2" fill="#fff" stroke-linejoin="miter"/>
<polygon points="578.02,161.24 583.82,157.94 583.82,164.54" stroke="#9ee02a" stroke-width="1.2" fill="#fff" stroke-linejoin="miter"/>
<polygon points="592.80,160.97 598.60,157.67 598.60,164.27" stroke="#9ee02a" stroke-width="1.2" fill="#fff" stroke-linejoin="miter"/>
<polygon points="602.65,159.52 608.45,156.22 608.45,162.82" stroke="#9ee02a" stroke-width="1.2" fill="#fff" stroke-linejoin="miter"/>
<polyline points="359.75,184.77 374.53,176.58 389.31,162.82 404.09,157.67 418.86,155.95 433.64,139.81 448.42,137.30 463.20,138.62 477.98,129.10 492.75,116.41 507.53,103.32 522.31,90.36 537.09,78.72 551.87,68.14 566.64,57.83 581.42,47.78 596.20,43.28 606.05,40.63" fill="none" stroke="#12d012" stroke-width="1.8" stroke-linejoin="round"/>
<polygon points="363.15,184.77 357.35,181.47 357.35,188.07" stroke="#12d012" stroke-width="1.2" fill="#fff" stroke-linejoin="miter"/>
<polygon points="377.93,176.58 372.13,173.28 372.13,179.88" stroke="#12d012" stroke-width="1.2" fill="#fff" stroke-linejoin="miter"/>
<polygon points="392.71,162.82 386.91,159.52 386.91,166.12" stroke="#12d012" stroke-width="1.2" fill="#fff" stroke-linejoin="miter"/>
<polygon points="407.49,157.67 401.69,154.37 401.69,160.97" stroke="#12d012" stroke-width="1.2" fill="#fff" stroke-linejoin="miter"/>
<polygon points="422.26,155.95 416.46,152.65 416.46,159.25" stroke="#12d012" stroke-width="1.2" fill="#fff" stroke-linejoin="miter"/>
<polygon points="437.04,139.81 431.24,136.51 431.24,143.11" stroke="#12d012" stroke-width="1.2" fill="#fff" stroke-linejoin="miter"/>
<polygon points="451.82,137.30 446.02,134.00 446.02,140.60" stroke="#12d012" stroke-width="1.2" fill="#fff" stroke-linejoin="miter"/>
<polygon points="466.60,138.62 460.80,135.32 460.80,141.92" stroke="#12d012" stroke-width="1.2" fill="#fff" stroke-linejoin="miter"/>
<polygon points="481.38,129.10 475.58,125.80 475.58,132.40" stroke="#12d012" stroke-width="1.2" fill="#fff" stroke-linejoin="miter"/>
<polygon points="496.15,116.41 490.35,113.11 490.35,119.71" stroke="#12d012" stroke-width="1.2" fill="#fff" stroke-linejoin="miter"/>
<polygon points="510.93,103.32 505.13,100.02 505.13,106.62" stroke="#12d012" stroke-width="1.2" fill="#fff" stroke-linejoin="miter"/>
<polygon points="525.71,90.36 519.91,87.06 519.91,93.66" stroke="#12d012" stroke-width="1.2" fill="#fff" stroke-linejoin="miter"/>
<polygon points="540.49,78.72 534.69,75.42 534.69,82.02" stroke="#12d012" stroke-width="1.2" fill="#fff" stroke-linejoin="miter"/>
<polygon points="555.27,68.14 549.47,64.84 549.47,71.44" stroke="#12d012" stroke-width="1.2" fill="#fff" stroke-linejoin="miter"/>
<polygon points="570.04,57.83 564.24,54.53 564.24,61.13" stroke="#12d012" stroke-width="1.2" fill="#fff" stroke-linejoin="miter"/>
<polygon points="584.82,47.78 579.02,44.48 579.02,51.08" stroke="#12d012" stroke-width="1.2" fill="#fff" stroke-linejoin="miter"/>
<polygon points="599.60,43.28 593.80,39.98 593.80,46.58" stroke="#12d012" stroke-width="1.2" fill="#fff" stroke-linejoin="miter"/>
<polygon points="609.45,40.63 603.65,37.33 603.65,43.93" stroke="#12d012" stroke-width="1.2" fill="#fff" stroke-linejoin="miter"/>
<polyline points="359.75,191.92 374.53,204.61 389.31,204.61 404.09,204.61 418.86,204.61 433.64,204.61 448.42,204.61 463.20,204.61 477.98,204.61 492.75,204.61 507.53,204.61 522.31,204.61 537.09,204.61 551.87,204.61 566.64,204.61 581.42,204.61 596.20,204.61 606.05,204.61" fill="none" stroke="#1cd68c" stroke-width="1.8" stroke-linejoin="round"/>
<circle cx="359.75" cy="191.92" r="2.8" stroke="#1cd68c" stroke-width="1.2" fill="#fff"/>
<circle cx="374.53" cy="204.61" r="2.8" stroke="#1cd68c" stroke-width="1.2" fill="#fff"/>
<circle cx="389.31" cy="204.61" r="2.8" stroke="#1cd68c" stroke-width="1.2" fill="#fff"/>
<circle cx="404.09" cy="204.61" r="2.8" stroke="#1cd68c" stroke-width="1.2" fill="#fff"/>
<circle cx="418.86" cy="204.61" r="2.8" stroke="#1cd68c" stroke-width="1.2" fill="#fff"/>
<circle cx="433.64" cy="204.61" r="2.8" stroke="#1cd68c" stroke-width="1.2" fill="#fff"/>
<circle cx="448.42" cy="204.61" r="2.8" stroke="#1cd68c" stroke-width="1.2" fill="#fff"/>
<circle cx="463.20" cy="204.61" r="2.8" stroke="#1cd68c" stroke-width="1.2" fill="#fff"/>
<circle cx="477.98" cy="204.61" r="2.8" stroke="#1cd68c" stroke-width="1.2" fill="#fff"/>
<circle cx="492.75" cy="204.61" r="2.8" stroke="#1cd68c" stroke-width="1.2" fill="#fff"/>
<circle cx="507.53" cy="204.61" r="2.8" stroke="#1cd68c" stroke-width="1.2" fill="#fff"/>
<circle cx="522.31" cy="204.61" r="2.8" stroke="#1cd68c" stroke-width="1.2" fill="#fff"/>
<circle cx="537.09" cy="204.61" r="2.8" stroke="#1cd68c" stroke-width="1.2" fill="#fff"/>
<circle cx="551.87" cy="204.61" r="2.8" stroke="#1cd68c" stroke-width="1.2" fill="#fff"/>
<circle cx="566.64" cy="204.61" r="2.8" stroke="#1cd68c" stroke-width="1.2" fill="#fff"/>
<circle cx="581.42" cy="204.61" r="2.8" stroke="#1cd68c" stroke-width="1.2" fill="#fff"/>
<circle cx="596.20" cy="204.61" r="2.8" stroke="#1cd68c" stroke-width="1.2" fill="#fff"/>
<circle cx="606.05" cy="204.61" r="2.8" stroke="#1cd68c" stroke-width="1.2" fill="#fff"/>
<polyline points="359.75,192.71 374.53,204.61 389.31,204.61 404.09,204.61 418.86,204.61 433.64,204.61 448.42,204.61 463.20,204.61 477.98,204.61 492.75,204.61 507.53,204.61 522.31,204.61 537.09,204.61 551.87,204.61 566.64,204.61 581.42,204.61 596.20,204.61 606.05,204.61" fill="none" stroke="#1cc6d0" stroke-width="1.8" stroke-linejoin="round"/>
<polygon points="359.75,189.51 360.57,191.58 362.80,191.72 361.08,193.14 361.63,195.30 359.75,194.11 357.87,195.30 358.42,193.14 356.71,191.72 358.93,191.58" stroke="#1cc6d0" stroke-width="1.2" fill="#fff" stroke-linejoin="miter"/>
<polygon points="374.53,201.41 375.35,203.48 377.57,203.62 375.86,205.04 376.41,207.20 374.53,206.01 372.65,207.20 373.20,205.04 371.49,203.62 373.71,203.48" stroke="#1cc6d0" stroke-width="1.2" fill="#fff" stroke-linejoin="miter"/>
<polygon points="389.31,201.41 390.13,203.48 392.35,203.62 390.64,205.04 391.19,207.20 389.31,206.01 387.43,207.20 387.98,205.04 386.26,203.62 388.49,203.48" stroke="#1cc6d0" stroke-width="1.2" fill="#fff" stroke-linejoin="miter"/>
<polygon points="404.09,201.41 404.91,203.48 407.13,203.62 405.42,205.04 405.97,207.20 404.09,206.01 402.21,207.20 402.75,205.04 401.04,203.62 403.26,203.48" stroke="#1cc6d0" stroke-width="1.2" fill="#fff" stroke-linejoin="miter"/>
<polygon points="418.86,201.41 419.69,203.48 421.91,203.62 420.20,205.04 420.74,207.20 418.86,206.01 416.98,207.20 417.53,205.04 415.82,203.62 418.04,203.48" stroke="#1cc6d0" stroke-width="1.2" fill="#fff" stroke-linejoin="miter"/>
<polygon points="433.64,201.41 434.46,203.48 436.69,203.62 434.97,205.04 435.52,207.20 433.64,206.01 431.76,207.20 432.31,205.04 430.60,203.62 432.82,203.48" stroke="#1cc6d0" stroke-width="1.2" fill="#fff" stroke-linejoin="miter"/>
<polygon points="448.42,201.41 449.24,203.48 451.46,203.62 449.75,205.04 450.30,207.20 448.42,206.01 446.54,207.20 447.09,205.04 445.38,203.62 447.60,203.48" stroke="#1cc6d0" stroke-width="1.2" fill="#fff" stroke-linejoin="miter"/>
<polygon points="463.20,201.41 464.02,203.48 466.24,203.62 464.53,205.04 465.08,207.20 463.20,206.01 461.32,207.20 461.87,205.04 460.15,203.62 462.38,203.48" stroke="#1cc6d0" stroke-width="1.2" fill="#fff" stroke-linejoin="miter"/>
<polygon points="477.98,201.41 478.80,203.48 481.02,203.62 479.31,205.04 479.86,207.20 477.98,206.01 476.10,207.20 476.64,205.04 474.93,203.62 477.15,203.48" stroke="#1cc6d0" stroke-width="1.2" fill="#fff" stroke-linejoin="miter"/>
<polygon points="492.75,201.41 493.58,203.48 495.80,203.62 494.09,205.04 494.63,207.20 492.75,206.01 490.87,207.20 491.42,205.04 489.71,203.62 491.93,203.48" stroke="#1cc6d0" stroke-width="1.2" fill="#fff" stroke-linejoin="miter"/>
<polygon points="507.53,201.41 508.35,203.48 510.58,203.62 508.86,205.04 509.41,207.20 507.53,206.01 505.65,207.20 506.20,205.04 504.49,203.62 506.71,203.48" stroke="#1cc6d0" stroke-width="1.2" fill="#fff" stroke-linejoin="miter"/>
<polygon points="522.31,201.41 523.13,203.48 525.35,203.62 523.64,205.04 524.19,207.20 522.31,206.01 520.43,207.20 520.98,205.04 519.27,203.62 521.49,203.48" stroke="#1cc6d0" stroke-width="1.2" fill="#fff" stroke-linejoin="miter"/>
<polygon points="537.09,201.41 537.91,203.48 540.13,203.62 538.42,205.04 538.97,207.20 537.09,206.01 535.21,207.20 535.76,205.04 534.04,203.62 536.27,203.48" stroke="#1cc6d0" stroke-width="1.2" fill="#fff" stroke-linejoin="miter"/>
<polygon points="551.87,201.41 552.69,203.48 554.91,203.62 553.20,205.04 553.75,207.20 551.87,206.01 549.99,207.20 550.53,205.04 548.82,203.62 551.04,203.48" stroke="#1cc6d0" stroke-width="1.2" fill="#fff" stroke-linejoin="miter"/>
<polygon points="566.64,201.41 567.47,203.48 569.69,203.62 567.98,205.04 568.52,207.20 566.64,206.01 564.76,207.20 565.31,205.04 563.60,203.62 565.82,203.48" stroke="#1cc6d0" stroke-width="1.2" fill="#fff" stroke-linejoin="miter"/>
<polygon points="581.42,201.41 582.24,203.48 584.47,203.62 582.75,205.04 583.30,207.20 581.42,206.01 579.54,207.20 580.09,205.04 578.38,203.62 580.60,203.48" stroke="#1cc6d0" stroke-width="1.2" fill="#fff" stroke-linejoin="miter"/>
<polygon points="596.20,201.41 597.02,203.48 599.24,203.62 597.53,205.04 598.08,207.20 596.20,206.01 594.32,207.20 594.87,205.04 593.16,203.62 595.38,203.48" stroke="#1cc6d0" stroke-width="1.2" fill="#fff" stroke-linejoin="miter"/>
<polygon points="606.05,201.41 606.87,203.48 609.10,203.62 607.38,205.04 607.93,207.20 606.05,206.01 604.17,207.20 604.72,205.04 603.01,203.62 605.23,203.48" stroke="#1cc6d0" stroke-width="1.2" fill="#fff" stroke-linejoin="miter"/>
<polyline points="359.75,185.83 374.53,192.97 389.31,203.82 404.09,204.08 418.86,204.21 433.64,204.35 448.42,204.35 463.20,204.35 477.98,204.35 492.75,204.35 507.53,204.35 522.31,204.35 537.09,204.35 551.87,204.35 566.64,204.35 581.42,204.35 596.20,204.35 606.05,204.35" fill="none" stroke="#1294ff" stroke-width="1.8" stroke-linejoin="round"/>
<polygon points="359.75,182.53 362.89,184.81 361.69,188.50 357.81,188.50 356.61,184.81" stroke="#1294ff" stroke-width="1.2" fill="#fff" stroke-linejoin="miter"/>
<polygon points="374.53,189.67 377.67,191.95 376.47,195.64 372.59,195.64 371.39,191.95" stroke="#1294ff" stroke-width="1.2" fill="#fff" stroke-linejoin="miter"/>
<polygon points="389.31,200.52 392.45,202.80 391.25,206.49 387.37,206.49 386.17,202.80" stroke="#1294ff" stroke-width="1.2" fill="#fff" stroke-linejoin="miter"/>
<polygon points="404.09,200.78 407.22,203.06 406.03,206.75 402.15,206.75 400.95,203.06" stroke="#1294ff" stroke-width="1.2" fill="#fff" stroke-linejoin="miter"/>
<polygon points="418.86,200.91 422.00,203.19 420.80,206.88 416.92,206.88 415.73,203.19" stroke="#1294ff" stroke-width="1.2" fill="#fff" stroke-linejoin="miter"/>
<polygon points="433.64,201.05 436.78,203.33 435.58,207.02 431.70,207.02 430.50,203.33" stroke="#1294ff" stroke-width="1.2" fill="#fff" stroke-linejoin="miter"/>
<polygon points="448.42,201.05 451.56,203.33 450.36,207.02 446.48,207.02 445.28,203.33" stroke="#1294ff" stroke-width="1.2" fill="#fff" stroke-linejoin="miter"/>
<polygon points="463.20,201.05 466.34,203.33 465.14,207.02 461.26,207.02 460.06,203.33" stroke="#1294ff" stroke-width="1.2" fill="#fff" stroke-linejoin="miter"/>
<polygon points="477.98,201.05 481.11,203.33 479.92,207.02 476.04,207.02 474.84,203.33" stroke="#1294ff" stroke-width="1.2" fill="#fff" stroke-linejoin="miter"/>
<polygon points="492.75,201.05 495.89,203.33 494.69,207.02 490.81,207.02 489.62,203.33" stroke="#1294ff" stroke-width="1.2" fill="#fff" stroke-linejoin="miter"/>
<polygon points="507.53,201.05 510.67,203.33 509.47,207.02 505.59,207.02 504.39,203.33" stroke="#1294ff" stroke-width="1.2" fill="#fff" stroke-linejoin="miter"/>
<polygon points="522.31,201.05 525.45,203.33 524.25,207.02 520.37,207.02 519.17,203.33" stroke="#1294ff" stroke-width="1.2" fill="#fff" stroke-linejoin="miter"/>
<polygon points="537.09,201.05 540.23,203.33 539.03,207.02 535.15,207.02 533.95,203.33" stroke="#1294ff" stroke-width="1.2" fill="#fff" stroke-linejoin="miter"/>
<polygon points="551.87,201.05 555.00,203.33 553.81,207.02 549.93,207.02 548.73,203.33" stroke="#1294ff" stroke-width="1.2" fill="#fff" stroke-linejoin="miter"/>
<polygon points="566.64,201.05 569.78,203.33 568.58,207.02 564.70,207.02 563.51,203.33" stroke="#1294ff" stroke-width="1.2" fill="#fff" stroke-linejoin="miter"/>
<polygon points="581.42,201.05 584.56,203.33 583.36,207.02 579.48,207.02 578.28,203.33" stroke="#1294ff" stroke-width="1.2" fill="#fff" stroke-linejoin="miter"/>
<polygon points="596.20,201.05 599.34,203.33 598.14,207.02 594.26,207.02 593.06,203.33" stroke="#1294ff" stroke-width="1.2" fill="#fff" stroke-linejoin="miter"/>
<polygon points="606.05,201.05 609.19,203.33 607.99,207.02 604.11,207.02 602.91,203.33" stroke="#1294ff" stroke-width="1.2" fill="#fff" stroke-linejoin="miter"/>
<polyline points="359.75,192.97 374.53,181.47 389.31,169.04 404.09,150.13 418.86,172.87 433.64,178.82 448.42,177.37 463.20,184.77 477.98,195.22 492.75,198.40 507.53,202.63 522.31,204.21 537.09,204.35 551.87,204.35 566.64,204.35 581.42,204.35 596.20,204.35 606.05,204.35" fill="none" stroke="#1424f0" stroke-width="1.8" stroke-linejoin="round"/>
<path d="M356.35 192.97H363.15M359.75 189.37V196.57" stroke="#1424f0" stroke-width="1.4" fill="none"/>
<path d="M371.13 181.47H377.93M374.53 177.87V185.07" stroke="#1424f0" stroke-width="1.4" fill="none"/>
<path d="M385.91 169.04H392.71M389.31 165.44V172.64" stroke="#1424f0" stroke-width="1.4" fill="none"/>
<path d="M400.69 150.13H407.49M404.09 146.53V153.73" stroke="#1424f0" stroke-width="1.4" fill="none"/>
<path d="M415.46 172.87H422.26M418.86 169.27V176.47" stroke="#1424f0" stroke-width="1.4" fill="none"/>
<path d="M430.24 178.82H437.04M433.64 175.22V182.42" stroke="#1424f0" stroke-width="1.4" fill="none"/>
<path d="M445.02 177.37H451.82M448.42 173.77V180.97" stroke="#1424f0" stroke-width="1.4" fill="none"/>
<path d="M459.80 184.77H466.60M463.20 181.17V188.37" stroke="#1424f0" stroke-width="1.4" fill="none"/>
<path d="M474.58 195.22H481.38M477.98 191.62V198.82" stroke="#1424f0" stroke-width="1.4" fill="none"/>
<path d="M489.35 198.40H496.15M492.75 194.80V202.00" stroke="#1424f0" stroke-width="1.4" fill="none"/>
<path d="M504.13 202.63H510.93M507.53 199.03V206.23" stroke="#1424f0" stroke-width="1.4" fill="none"/>
<path d="M518.91 204.21H525.71M522.31 200.61V207.81" stroke="#1424f0" stroke-width="1.4" fill="none"/>
<path d="M533.69 204.35H540.49M537.09 200.75V207.95" stroke="#1424f0" stroke-width="1.4" fill="none"/>
<path d="M548.47 204.35H555.27M551.87 200.75V207.95" stroke="#1424f0" stroke-width="1.4" fill="none"/>
<path d="M563.24 204.35H570.04M566.64 200.75V207.95" stroke="#1424f0" stroke-width="1.4" fill="none"/>
<path d="M578.02 204.35H584.82M581.42 200.75V207.95" stroke="#1424f0" stroke-width="1.4" fill="none"/>
<path d="M592.80 204.35H599.60M596.20 200.75V207.95" stroke="#1424f0" stroke-width="1.4" fill="none"/>
<path d="M602.65 204.35H609.45M606.05 200.75V207.95" stroke="#1424f0" stroke-width="1.4" fill="none"/>
</g>
<path d="M616.2 32.7H350.1V209.9H616.2" fill="none" stroke="#000" stroke-width="1.3"/>
<path d="M616.1 32.1V210.5" stroke="#6c6c6c" stroke-width="1.8"/>
<text x="384.38" y="222.20" font-size="11" text-anchor="middle" >200</text>
<text x="433.64" y="222.20" font-size="11" text-anchor="middle" >400</text>
<text x="482.90" y="222.20" font-size="11" text-anchor="middle" >600</text>
<text x="532.16" y="222.20" font-size="11" text-anchor="middle" >800</text>
<text x="581.42" y="222.20" font-size="11" text-anchor="middle" >1000</text>
<text x="346.50" y="208.51" font-size="11" text-anchor="end" >0</text>
<text x="346.50" y="182.06" font-size="11" text-anchor="end" >2</text>
<text x="346.50" y="155.61" font-size="11" text-anchor="end" >4</text>
<text x="346.50" y="129.17" font-size="11" text-anchor="end" >6</text>
<text x="346.50" y="102.72" font-size="11" text-anchor="end" >8</text>
<text x="346.50" y="76.27" font-size="11" text-anchor="end" >10</text>
<text x="346.50" y="49.82" font-size="11" text-anchor="end" >12</text>
<path d="M359.75 209.90v-1.8 M384.38 209.90v-2.8 M409.01 209.90v-1.8 M433.64 209.90v-2.8 M458.27 209.90v-1.8 M482.90 209.90v-2.8 M507.53 209.90v-1.8 M532.16 209.90v-2.8 M556.79 209.90v-1.8 M581.42 209.90v-2.8 M606.05 209.90v-1.8 M350.10 204.61h2.8 M350.10 191.39h1.8 M350.10 178.16h2.8 M350.10 164.94h1.8 M350.10 151.71h2.8 M350.10 138.49h1.8 M350.10 125.27h2.8 M350.10 112.04h1.8 M350.10 98.82h2.8 M350.10 85.60h1.8 M350.10 72.37h2.8 M350.10 59.15h1.8 M350.10 45.92h2.8 M350.10 32.70h1.8" stroke="#000" stroke-width="1"/>
<text x="430.00" y="236.00" font-size="11.35" text-anchor="start" >Wavelength (nm)</text>
<text transform="translate(321.9,134.8) rotate(-90)" font-size="11" text-anchor="middle" font-style="italic">k</text>
<clipPath id="clipc"><rect x="33.7" y="251.5" width="265.90000000000003" height="177.0"/></clipPath>
<text x="56.40" y="287.60" font-size="11.6" text-anchor="start" >(c)</text>
<g clip-path="url(#clipc)">
<polyline points="43.55,266.37 58.33,263.89 73.11,264.42 87.89,264.77 102.66,264.77 117.44,264.95 132.22,264.95 147.00,264.95 161.78,265.66 176.55,267.08 191.33,268.31 206.11,271.86 220.89,274.86 235.67,272.39 250.44,264.95 265.22,261.41 280.00,259.47 289.85,258.76" fill="none" stroke="#ff0a8c" stroke-width="1.8" stroke-linejoin="round"/>
<rect x="40.85" y="263.67" width="5.40" height="5.40" stroke="#ff0a8c" stroke-width="1.2" fill="#fff"/>
<rect x="55.63" y="261.19" width="5.40" height="5.40" stroke="#ff0a8c" stroke-width="1.2" fill="#fff"/>
<rect x="70.41" y="261.72" width="5.40" height="5.40" stroke="#ff0a8c" stroke-width="1.2" fill="#fff"/>
<rect x="85.19" y="262.07" width="5.40" height="5.40" stroke="#ff0a8c" stroke-width="1.2" fill="#fff"/>
<rect x="99.96" y="262.07" width="5.40" height="5.40" stroke="#ff0a8c" stroke-width="1.2" fill="#fff"/>
<rect x="114.74" y="262.25" width="5.40" height="5.40" stroke="#ff0a8c" stroke-width="1.2" fill="#fff"/>
<rect x="129.52" y="262.25" width="5.40" height="5.40" stroke="#ff0a8c" stroke-width="1.2" fill="#fff"/>
<rect x="144.30" y="262.25" width="5.40" height="5.40" stroke="#ff0a8c" stroke-width="1.2" fill="#fff"/>
<rect x="159.08" y="262.96" width="5.40" height="5.40" stroke="#ff0a8c" stroke-width="1.2" fill="#fff"/>
<rect x="173.85" y="264.38" width="5.40" height="5.40" stroke="#ff0a8c" stroke-width="1.2" fill="#fff"/>
<rect x="188.63" y="265.62" width="5.40" height="5.40" stroke="#ff0a8c" stroke-width="1.2" fill="#fff"/>
<rect x="203.41" y="269.16" width="5.40" height="5.40" stroke="#ff0a8c" stroke-width="1.2" fill="#fff"/>
<rect x="218.19" y="272.16" width="5.40" height="5.40" stroke="#ff0a8c" stroke-width="1.2" fill="#fff"/>
<rect x="232.97" y="269.69" width="5.40" height="5.40" stroke="#ff0a8c" stroke-width="1.2" fill="#fff"/>
<rect x="247.74" y="262.25" width="5.40" height="5.40" stroke="#ff0a8c" stroke-width="1.2" fill="#fff"/>
<rect x="262.52" y="258.71" width="5.40" height="5.40" stroke="#ff0a8c" stroke-width="1.2" fill="#fff"/>
<rect x="277.30" y="256.77" width="5.40" height="5.40" stroke="#ff0a8c" stroke-width="1.2" fill="#fff"/>
<rect x="287.15" y="256.06" width="5.40" height="5.40" stroke="#ff0a8c" stroke-width="1.2" fill="#fff"/>
<polyline points="43.55,408.14 58.33,391.51 73.11,359.82 87.89,367.79 102.66,361.06 117.44,332.03 132.22,334.69 147.00,321.59 161.78,293.98 176.55,262.47 191.33,258.76 206.11,258.58 220.89,258.58 235.67,258.40 250.44,258.23 265.22,257.87 280.00,257.34 289.85,256.63" fill="none" stroke="#ff2424" stroke-width="1.8" stroke-linejoin="round"/>
<circle cx="43.55" cy="408.14" r="2.8" stroke="#ff2424" stroke-width="1.2" fill="#fff"/>
<circle cx="58.33" cy="391.51" r="2.8" stroke="#ff2424" stroke-width="1.2" fill="#fff"/>
<circle cx="73.11" cy="359.82" r="2.8" stroke="#ff2424" stroke-width="1.2" fill="#fff"/>
<circle cx="87.89" cy="367.79" r="2.8" stroke="#ff2424" stroke-width="1.2" fill="#fff"/>
<circle cx="102.66" cy="361.06" r="2.8" stroke="#ff2424" stroke-width="1.2" fill="#fff"/>
<circle cx="117.44" cy="332.03" r="2.8" stroke="#ff2424" stroke-width="1.2" fill="#fff"/>
<circle cx="132.22" cy="334.69" r="2.8" stroke="#ff2424" stroke-width="1.2" fill="#fff"/>
<circle cx="147.00" cy="321.59" r="2.8" stroke="#ff2424" stroke-width="1.2" fill="#fff"/>
<circle cx="161.78" cy="293.98" r="2.8" stroke="#ff2424" stroke-width="1.2" fill="#fff"/>
<circle cx="176.55" cy="262.47" r="2.8" stroke="#ff2424" stroke-width="1.2" fill="#fff"/>
<circle cx="191.33" cy="258.76" r="2.8" stroke="#ff2424" stroke-width="1.2" fill="#fff"/>
<circle cx="206.11" cy="258.58" r="2.8" stroke="#ff2424" stroke-width="1.2" fill="#fff"/>
<circle cx="220.89" cy="258.58" r="2.8" stroke="#ff2424" stroke-width="1.2" fill="#fff"/>
<circle cx="235.67" cy="258.40" r="2.8" stroke="#ff2424" stroke-width="1.2" fill="#fff"/>
<circle cx="250.44" cy="258.23" r="2.8" stroke="#ff2424" stroke-width="1.2" fill="#fff"/>
<circle cx="265.22" cy="257.87" r="2.8" stroke="#ff2424" stroke-width="1.2" fill="#fff"/>
<circle cx="280.00" cy="257.34" r="2.8" stroke="#ff2424" stroke-width="1.2" fill="#fff"/>
<circle cx="289.85" cy="256.63" r="2.8" stroke="#ff2424" stroke-width="1.2" fill="#fff"/>
<polyline points="43.55,405.67 58.33,390.62 73.11,358.05 87.89,348.85 102.66,335.22 117.44,323.36 132.22,317.52 147.00,313.45 161.78,310.26 176.55,307.08 191.33,304.60 206.11,302.30 220.89,299.82 235.67,298.23 250.44,296.10 265.22,294.33 280.00,293.10 289.85,292.21" fill="none" stroke="#ff8024" stroke-width="1.8" stroke-linejoin="round"/>
<polygon points="43.55,402.27 46.85,408.07 40.25,408.07" stroke="#ff8024" stroke-width="1.2" fill="#fff" stroke-linejoin="miter"/>
<polygon points="58.33,387.22 61.63,393.02 55.03,393.02" stroke="#ff8024" stroke-width="1.2" fill="#fff" stroke-linejoin="miter"/>
<polygon points="73.11,354.65 76.41,360.45 69.81,360.45" stroke="#ff8024" stroke-width="1.2" fill="#fff" stroke-linejoin="miter"/>
<polygon points="87.89,345.45 91.19,351.25 84.59,351.25" stroke="#ff8024" stroke-width="1.2" fill="#fff" stroke-linejoin="miter"/>
<polygon points="102.66,331.82 105.96,337.62 99.36,337.62" stroke="#ff8024" stroke-width="1.2" fill="#fff" stroke-linejoin="miter"/>
<polygon points="117.44,319.96 120.74,325.76 114.14,325.76" stroke="#ff8024" stroke-width="1.2" fill="#fff" stroke-linejoin="miter"/>
<polygon points="132.22,314.12 135.52,319.92 128.92,319.92" stroke="#ff8024" stroke-width="1.2" fill="#fff" stroke-linejoin="miter"/>
<polygon points="147.00,310.05 150.30,315.85 143.70,315.85" stroke="#ff8024" stroke-width="1.2" fill="#fff" stroke-linejoin="miter"/>
<polygon points="161.78,306.86 165.08,312.66 158.48,312.66" stroke="#ff8024" stroke-width="1.2" fill="#fff" stroke-linejoin="miter"/>
<polygon points="176.55,303.68 179.85,309.48 173.25,309.48" stroke="#ff8024" stroke-width="1.2" fill="#fff" stroke-linejoin="miter"/>
<polygon points="191.33,301.20 194.63,307.00 188.03,307.00" stroke="#ff8024" stroke-width="1.2" fill="#fff" stroke-linejoin="miter"/>
<polygon points="206.11,298.90 209.41,304.70 202.81,304.70" stroke="#ff8024" stroke-width="1.2" fill="#fff" stroke-linejoin="miter"/>
<polygon points="220.89,296.42 224.19,302.22 217.59,302.22" stroke="#ff8024" stroke-width="1.2" fill="#fff" stroke-linejoin="miter"/>
<polygon points="235.67,294.83 238.97,300.63 232.37,300.63" stroke="#ff8024" stroke-width="1.2" fill="#fff" stroke-linejoin="miter"/>
<polygon points="250.44,292.70 253.74,298.50 247.14,298.50" stroke="#ff8024" stroke-width="1.2" fill="#fff" stroke-linejoin="miter"/>
<polygon points="265.22,290.93 268.52,296.73 261.92,296.73" stroke="#ff8024" stroke-width="1.2" fill="#fff" stroke-linejoin="miter"/>
<polygon points="280.00,289.70 283.30,295.50 276.70,295.50" stroke="#ff8024" stroke-width="1.2" fill="#fff" stroke-linejoin="miter"/>
<polygon points="289.85,288.81 293.15,294.61 286.55,294.61" stroke="#ff8024" stroke-width="1.2" fill="#fff" stroke-linejoin="miter"/>
<polyline points="43.55,389.38 58.33,364.07 73.11,337.52 87.89,322.12 102.66,327.43 117.44,315.22 132.22,294.51 147.00,279.11 161.78,273.98 176.55,271.15 191.33,270.44 206.11,270.44 220.89,270.09 235.67,270.62 250.44,272.39 265.22,273.27 280.00,275.93 289.85,276.99" fill="none" stroke="#e9a81c" stroke-width="1.8" stroke-linejoin="round"/>
<polygon points="43.55,392.78 46.85,386.98 40.25,386.98" stroke="#e9a81c" stroke-width="1.2" fill="#fff" stroke-linejoin="miter"/>
<polygon points="58.33,367.47 61.63,361.67 55.03,361.67" stroke="#e9a81c" stroke-width="1.2" fill="#fff" stroke-linejoin="miter"/>
<polygon points="73.11,340.92 76.41,335.12 69.81,335.12" stroke="#e9a81c" stroke-width="1.2" fill="#fff" stroke-linejoin="miter"/>
<polygon points="87.89,325.52 91.19,319.72 84.59,319.72" stroke="#e9a81c" stroke-width="1.2" fill="#fff" stroke-linejoin="miter"/>
<polygon points="102.66,330.83 105.96,325.03 99.36,325.03" stroke="#e9a81c" stroke-width="1.2" fill="#fff" stroke-linejoin="miter"/>
<polygon points="117.44,318.62 120.74,312.82 114.14,312.82" stroke="#e9a81c" stroke-width="1.2" fill="#fff" stroke-linejoin="miter"/>
<polygon points="132.22,297.91 135.52,292.11 128.92,292.11" stroke="#e9a81c" stroke-width="1.2" fill="#fff" stroke-linejoin="miter"/>
<polygon points="147.00,282.51 150.30,276.71 143.70,276.71" stroke="#e9a81c" stroke-width="1.2" fill="#fff" stroke-linejoin="miter"/>
<polygon points="161.78,277.38 165.08,271.58 158.48,271.58" stroke="#e9a81c" stroke-width="1.2" fill="#fff" stroke-linejoin="miter"/>
<polygon points="176.55,274.55 179.85,268.75 173.25,268.75" stroke="#e9a81c" stroke-width="1.2" fill="#fff" stroke-linejoin="miter"/>
<polygon points="191.33,273.84 194.63,268.04 188.03,268.04" stroke="#e9a81c" stroke-width="1.2" fill="#fff" stroke-linejoin="miter"/>
<polygon points="206.11,273.84 209.41,268.04 202.81,268.04" stroke="#e9a81c" stroke-width="1.2" fill="#fff" stroke-linejoin="miter"/>
<polygon points="220.89,273.49 224.19,267.69 217.59,267.69" stroke="#e9a81c" stroke-width="1.2" fill="#fff" stroke-linejoin="miter"/>
<polygon points="235.67,274.02 238.97,268.22 232.37,268.22" stroke="#e9a81c" stroke-width="1.2" fill="#fff" stroke-linejoin="miter"/>
<polygon points="250.44,275.79 253.74,269.99 247.14,269.99" stroke="#e9a81c" stroke-width="1.2" fill="#fff" stroke-linejoin="miter"/>
<polygon points="265.22,276.67 268.52,270.87 261.92,270.87" stroke="#e9a81c" stroke-width="1.2" fill="#fff" stroke-linejoin="miter"/>
<polygon points="280.00,279.33 283.30,273.53 276.70,273.53" stroke="#e9a81c" stroke-width="1.2" fill="#fff" stroke-linejoin="miter"/>
<polygon points="289.85,280.39 293.15,274.59 286.55,274.59" stroke="#e9a81c" stroke-width="1.2" fill="#fff" stroke-linejoin="miter"/>
<polyline points="43.55,318.58 58.33,306.02 73.11,309.91 87.89,300.71 102.66,329.03 117.44,342.30 132.22,355.75 147.00,361.77 161.78,363.72 176.55,366.90 191.33,368.50 206.11,369.56 220.89,370.09 235.67,371.15 250.44,371.68 265.22,372.21 280.00,372.75 289.85,373.28" fill="none" stroke="#e4d61e" stroke-width="1.8" stroke-linejoin="round"/>
<polygon points="43.55,314.98 46.85,318.58 43.55,322.18 40.25,318.58" stroke="#e4d61e" stroke-width="1.2" fill="#fff" stroke-linejoin="miter"/>
<polygon points="58.33,302.42 61.63,306.02 58.33,309.62 55.03,306.02" stroke="#e4d61e" stroke-width="1.2" fill="#fff" stroke-linejoin="miter"/>
<polygon points="73.11,306.31 76.41,309.91 73.11,313.51 69.81,309.91" stroke="#e4d61e" stroke-width="1.2" fill="#fff" stroke-linejoin="miter"/>
<polygon points="87.89,297.11 91.19,300.71 87.89,304.31 84.59,300.71" stroke="#e4d61e" stroke-width="1.2" fill="#fff" stroke-linejoin="miter"/>
<polygon points="102.66,325.43 105.96,329.03 102.66,332.63 99.36,329.03" stroke="#e4d61e" stroke-width="1.2" fill="#fff" stroke-linejoin="miter"/>
<polygon points="117.44,338.70 120.74,342.30 117.44,345.90 114.14,342.30" stroke="#e4d61e" stroke-width="1.2" fill="#fff" stroke-linejoin="miter"/>
<polygon points="132.22,352.15 135.52,355.75 132.22,359.35 128.92,355.75" stroke="#e4d61e" stroke-width="1.2" fill="#fff" stroke-linejoin="miter"/>
<polygon points="147.00,358.17 150.30,361.77 147.00,365.37 143.70,361.77" stroke="#e4d61e" stroke-width="1.2" fill="#fff" stroke-linejoin="miter"/>
<polygon points="161.78,360.12 165.08,363.72 161.78,367.32 158.48,363.72" stroke="#e4d61e" stroke-width="1.2" fill="#fff" stroke-linejoin="miter"/>
<polygon points="176.55,363.30 179.85,366.90 176.55,370.50 173.25,366.90" stroke="#e4d61e" stroke-width="1.2" fill="#fff" stroke-linejoin="miter"/>
<polygon points="191.33,364.90 194.63,368.50 191.33,372.10 188.03,368.50" stroke="#e4d61e" stroke-width="1.2" fill="#fff" stroke-linejoin="miter"/>
<polygon points="206.11,365.96 209.41,369.56 206.11,373.16 202.81,369.56" stroke="#e4d61e" stroke-width="1.2" fill="#fff" stroke-linejoin="miter"/>
<polygon points="220.89,366.49 224.19,370.09 220.89,373.69 217.59,370.09" stroke="#e4d61e" stroke-width="1.2" fill="#fff" stroke-linejoin="miter"/>
<polygon points="235.67,367.55 238.97,371.15 235.67,374.75 232.37,371.15" stroke="#e4d61e" stroke-width="1.2" fill="#fff" stroke-linejoin="miter"/>
<polygon points="250.44,368.08 253.74,371.68 250.44,375.28 247.14,371.68" stroke="#e4d61e" stroke-width="1.2" fill="#fff" stroke-linejoin="miter"/>
<polygon points="265.22,368.61 268.52,372.21 265.22,375.81 261.92,372.21" stroke="#e4d61e" stroke-width="1.2" fill="#fff" stroke-linejoin="miter"/>
<polygon points="280.00,369.14 283.30,372.75 280.00,376.35 276.70,372.75" stroke="#e4d61e" stroke-width="1.2" fill="#fff" stroke-linejoin="miter"/>
<polygon points="289.85,369.68 293.15,373.28 289.85,376.88 286.55,373.28" stroke="#e4d61e" stroke-width="1.2" fill="#fff" stroke-linejoin="miter"/>
<polyline points="43.55,415.58 58.33,405.67 73.11,387.97 87.89,378.59 102.66,350.97 117.44,349.74 132.22,347.43 147.00,343.01 161.78,337.35 176.55,334.16 191.33,332.03 206.11,330.44 220.89,330.44 235.67,331.33 250.44,331.50 265.22,331.50 280.00,330.97 289.85,330.09" fill="none" stroke="#9ee02a" stroke-width="1.8" stroke-linejoin="round"/>
<polygon points="40.15,415.58 45.95,412.28 45.95,418.88" stroke="#9ee02a" stroke-width="1.2" fill="#fff" stroke-linejoin="miter"/>
<polygon points="54.93,405.67 60.73,402.37 60.73,408.97" stroke="#9ee02a" stroke-width="1.2" fill="#fff" stroke-linejoin="miter"/>
<polygon points="69.71,387.97 75.51,384.67 75.51,391.27" stroke="#9ee02a" stroke-width="1.2" fill="#fff" stroke-linejoin="miter"/>
<polygon points="84.49,378.59 90.29,375.29 90.29,381.89" stroke="#9ee02a" stroke-width="1.2" fill="#fff" stroke-linejoin="miter"/>
<polygon points="99.26,350.97 105.06,347.67 105.06,354.27" stroke="#9ee02a" stroke-width="1.2" fill="#fff" stroke-linejoin="miter"/>
<polygon points="114.04,349.74 119.84,346.44 119.84,353.04" stroke="#9ee02a" stroke-width="1.2" fill="#fff" stroke-linejoin="miter"/>
<polygon points="128.82,347.43 134.62,344.13 134.62,350.73" stroke="#9ee02a" stroke-width="1.2" fill="#fff" stroke-linejoin="miter"/>
<polygon points="143.60,343.01 149.40,339.71 149.40,346.31" stroke="#9ee02a" stroke-width="1.2" fill="#fff" stroke-linejoin="miter"/>
<polygon points="158.38,337.35 164.18,334.05 164.18,340.65" stroke="#9ee02a" stroke-width="1.2" fill="#fff" stroke-linejoin="miter"/>
<polygon points="173.15,334.16 178.95,330.86 178.95,337.46" stroke="#9ee02a" stroke-width="1.2" fill="#fff" stroke-linejoin="miter"/>
<polygon points="187.93,332.03 193.73,328.73 193.73,335.33" stroke="#9ee02a" stroke-width="1.2" fill="#fff" stroke-linejoin="miter"/>
<polygon points="202.71,330.44 208.51,327.14 208.51,333.74" stroke="#9ee02a" stroke-width="1.2" fill="#fff" stroke-linejoin="miter"/>
<polygon points="217.49,330.44 223.29,327.14 223.29,333.74" stroke="#9ee02a" stroke-width="1.2" fill="#fff" stroke-linejoin="miter"/>
<polygon points="232.27,331.33 238.07,328.03 238.07,334.63" stroke="#9ee02a" stroke-width="1.2" fill="#fff" stroke-linejoin="miter"/>
<polygon points="247.04,331.50 252.84,328.20 252.84,334.80" stroke="#9ee02a" stroke-width="1.2" fill="#fff" stroke-linejoin="miter"/>
<polygon points="261.82,331.50 267.62,328.20 267.62,334.80" stroke="#9ee02a" stroke-width="1.2" fill="#fff" stroke-linejoin="miter"/>
<polygon points="276.60,330.97 282.40,327.67 282.40,334.27" stroke="#9ee02a" stroke-width="1.2" fill="#fff" stroke-linejoin="miter"/>
<polygon points="286.45,330.09 292.25,326.79 292.25,333.39" stroke="#9ee02a" stroke-width="1.2" fill="#fff" stroke-linejoin="miter"/>
<polyline points="43.55,359.82 58.33,329.73 73.11,296.99 87.89,297.70 102.66,311.15 117.44,286.90 132.22,295.40 147.00,289.91 161.78,273.98 176.55,264.42 191.33,262.12 206.11,260.88 220.89,260.00 235.67,260.88 250.44,261.41 265.22,262.12 280.00,263.54 289.85,264.42" fill="none" stroke="#12d012" stroke-width="1.8" stroke-linejoin="round"/>
<polygon points="46.95,359.82 41.15,356.52 41.15,363.12" stroke="#12d012" stroke-width="1.2" fill="#fff" stroke-linejoin="miter"/>
<polygon points="61.73,329.73 55.93,326.43 55.93,333.03" stroke="#12d012" stroke-width="1.2" fill="#fff" stroke-linejoin="miter"/>
<polygon points="76.51,296.99 70.71,293.69 70.71,300.29" stroke="#12d012" stroke-width="1.2" fill="#fff" stroke-linejoin="miter"/>
<polygon points="91.29,297.70 85.49,294.40 85.49,301.00" stroke="#12d012" stroke-width="1.2" fill="#fff" stroke-linejoin="miter"/>
<polygon points="106.06,311.15 100.26,307.85 100.26,314.45" stroke="#12d012" stroke-width="1.2" fill="#fff" stroke-linejoin="miter"/>
<polygon points="120.84,286.90 115.04,283.60 115.04,290.20" stroke="#12d012" stroke-width="1.2" fill="#fff" stroke-linejoin="miter"/>
<polygon points="135.62,295.40 129.82,292.10 129.82,298.70" stroke="#12d012" stroke-width="1.2" fill="#fff" stroke-linejoin="miter"/>
<polygon points="150.40,289.91 144.60,286.61 144.60,293.21" stroke="#12d012" stroke-width="1.2" fill="#fff" stroke-linejoin="miter"/>
<polygon points="165.18,273.98 159.38,270.68 159.38,277.28" stroke="#12d012" stroke-width="1.2" fill="#fff" stroke-linejoin="miter"/>
<polygon points="179.95,264.42 174.15,261.12 174.15,267.72" stroke="#12d012" stroke-width="1.2" fill="#fff" stroke-linejoin="miter"/>
<polygon points="194.73,262.12 188.93,258.82 188.93,265.42" stroke="#12d012" stroke-width="1.2" fill="#fff" stroke-linejoin="miter"/>
<polygon points="209.51,260.88 203.71,257.58 203.71,264.18" stroke="#12d012" stroke-width="1.2" fill="#fff" stroke-linejoin="miter"/>
<polygon points="224.29,260.00 218.49,256.70 218.49,263.30" stroke="#12d012" stroke-width="1.2" fill="#fff" stroke-linejoin="miter"/>
<polygon points="239.07,260.88 233.27,257.58 233.27,264.18" stroke="#12d012" stroke-width="1.2" fill="#fff" stroke-linejoin="miter"/>
<polygon points="253.84,261.41 248.04,258.11 248.04,264.71" stroke="#12d012" stroke-width="1.2" fill="#fff" stroke-linejoin="miter"/>
<polygon points="268.62,262.12 262.82,258.82 262.82,265.42" stroke="#12d012" stroke-width="1.2" fill="#fff" stroke-linejoin="miter"/>
<polygon points="283.40,263.54 277.60,260.24 277.60,266.84" stroke="#12d012" stroke-width="1.2" fill="#fff" stroke-linejoin="miter"/>
<polygon points="293.25,264.42 287.45,261.12 287.45,267.72" stroke="#12d012" stroke-width="1.2" fill="#fff" stroke-linejoin="miter"/>
<polyline points="43.55,402.48 58.33,413.45 73.11,417.88 87.89,418.59 102.66,419.12 117.44,419.47 132.22,419.65 147.00,419.83 161.78,419.83 176.55,420.00 191.33,420.00 206.11,420.00 220.89,420.00 235.67,420.00 250.44,420.00 265.22,420.00 280.00,420.00 289.85,420.00" fill="none" stroke="#1cd68c" stroke-width="1.8" stroke-linejoin="round"/>
<circle cx="43.55" cy="402.48" r="2.8" stroke="#1cd68c" stroke-width="1.2" fill="#fff"/>
<circle cx="58.33" cy="413.45" r="2.8" stroke="#1cd68c" stroke-width="1.2" fill="#fff"/>
<circle cx="73.11" cy="417.88" r="2.8" stroke="#1cd68c" stroke-width="1.2" fill="#fff"/>
<circle cx="87.89" cy="418.59" r="2.8" stroke="#1cd68c" stroke-width="1.2" fill="#fff"/>
<circle cx="102.66" cy="419.12" r="2.8" stroke="#1cd68c" stroke-width="1.2" fill="#fff"/>
<circle cx="117.44" cy="419.47" r="2.8" stroke="#1cd68c" stroke-width="1.2" fill="#fff"/>
<circle cx="132.22" cy="419.65" r="2.8" stroke="#1cd68c" stroke-width="1.2" fill="#fff"/>
<circle cx="147.00" cy="419.83" r="2.8" stroke="#1cd68c" stroke-width="1.2" fill="#fff"/>
<circle cx="161.78" cy="419.83" r="2.8" stroke="#1cd68c" stroke-width="1.2" fill="#fff"/>
<circle cx="176.55" cy="420.00" r="2.8" stroke="#1cd68c" stroke-width="1.2" fill="#fff"/>
<circle cx="191.33" cy="420.00" r="2.8" stroke="#1cd68c" stroke-width="1.2" fill="#fff"/>
<circle cx="206.11" cy="420.00" r="2.8" stroke="#1cd68c" stroke-width="1.2" fill="#fff"/>
<circle cx="220.89" cy="420.00" r="2.8" stroke="#1cd68c" stroke-width="1.2" fill="#fff"/>
<circle cx="235.67" cy="420.00" r="2.8" stroke="#1cd68c" stroke-width="1.2" fill="#fff"/>
<circle cx="250.44" cy="420.00" r="2.8" stroke="#1cd68c" stroke-width="1.2" fill="#fff"/>
<circle cx="265.22" cy="420.00" r="2.8" stroke="#1cd68c" stroke-width="1.2" fill="#fff"/>
<circle cx="280.00" cy="420.00" r="2.8" stroke="#1cd68c" stroke-width="1.2" fill="#fff"/>
<circle cx="289.85" cy="420.00" r="2.8" stroke="#1cd68c" stroke-width="1.2" fill="#fff"/>
<polyline points="43.55,406.55 58.33,418.23 73.11,421.07 87.89,421.77 102.66,422.13 117.44,422.31 132.22,422.31 147.00,422.48 161.78,422.48 176.55,422.48 191.33,422.48 206.11,422.48 220.89,422.48 235.67,422.48 250.44,422.48 265.22,422.48 280.00,422.48 289.85,422.48" fill="none" stroke="#1cc6d0" stroke-width="1.8" stroke-linejoin="round"/>
<polygon points="43.55,403.35 44.37,405.42 46.60,405.56 44.88,406.98 45.43,409.14 43.55,407.95 41.67,409.14 42.22,406.98 40.51,405.56 42.73,405.42" stroke="#1cc6d0" stroke-width="1.2" fill="#fff" stroke-linejoin="miter"/>
<polygon points="58.33,415.03 59.15,417.10 61.37,417.25 59.66,418.67 60.21,420.82 58.33,419.63 56.45,420.82 57.00,418.67 55.29,417.25 57.51,417.10" stroke="#1cc6d0" stroke-width="1.2" fill="#fff" stroke-linejoin="miter"/>
<polygon points="73.11,417.87 73.93,419.93 76.15,420.08 74.44,421.50 74.99,423.65 73.11,422.47 71.23,423.65 71.78,421.50 70.06,420.08 72.29,419.93" stroke="#1cc6d0" stroke-width="1.2" fill="#fff" stroke-linejoin="miter"/>
<polygon points="87.89,418.57 88.71,420.64 90.93,420.79 89.22,422.21 89.77,424.36 87.89,423.17 86.01,424.36 86.55,422.21 84.84,420.79 87.06,420.64" stroke="#1cc6d0" stroke-width="1.2" fill="#fff" stroke-linejoin="miter"/>
<polygon points="102.66,418.93 103.49,421.00 105.71,421.14 104.00,422.56 104.54,424.72 102.66,423.53 100.78,424.72 101.33,422.56 99.62,421.14 101.84,421.00" stroke="#1cc6d0" stroke-width="1.2" fill="#fff" stroke-linejoin="miter"/>
<polygon points="117.44,419.11 118.26,421.17 120.49,421.32 118.77,422.74 119.32,424.89 117.44,423.70 115.56,424.89 116.11,422.74 114.40,421.32 116.62,421.17" stroke="#1cc6d0" stroke-width="1.2" fill="#fff" stroke-linejoin="miter"/>
<polygon points="132.22,419.11 133.04,421.17 135.26,421.32 133.55,422.74 134.10,424.89 132.22,423.70 130.34,424.89 130.89,422.74 129.18,421.32 131.40,421.17" stroke="#1cc6d0" stroke-width="1.2" fill="#fff" stroke-linejoin="miter"/>
<polygon points="147.00,419.28 147.82,421.35 150.04,421.49 148.33,422.91 148.88,425.07 147.00,423.88 145.12,425.07 145.67,422.91 143.95,421.49 146.18,421.35" stroke="#1cc6d0" stroke-width="1.2" fill="#fff" stroke-linejoin="miter"/>
<polygon points="161.78,419.28 162.60,421.35 164.82,421.49 163.11,422.91 163.66,425.07 161.78,423.88 159.90,425.07 160.44,422.91 158.73,421.49 160.95,421.35" stroke="#1cc6d0" stroke-width="1.2" fill="#fff" stroke-linejoin="miter"/>
<polygon points="176.55,419.28 177.38,421.35 179.60,421.49 177.89,422.91 178.43,425.07 176.55,423.88 174.67,425.07 175.22,422.91 173.51,421.49 175.73,421.35" stroke="#1cc6d0" stroke-width="1.2" fill="#fff" stroke-linejoin="miter"/>
<polygon points="191.33,419.28 192.15,421.35 194.38,421.49 192.66,422.91 193.21,425.07 191.33,423.88 189.45,425.07 190.00,422.91 188.29,421.49 190.51,421.35" stroke="#1cc6d0" stroke-width="1.2" fill="#fff" stroke-linejoin="miter"/>
<polygon points="206.11,419.28 206.93,421.35 209.15,421.49 207.44,422.91 207.99,425.07 206.11,423.88 204.23,425.07 204.78,422.91 203.07,421.49 205.29,421.35" stroke="#1cc6d0" stroke-width="1.2" fill="#fff" stroke-linejoin="miter"/>
<polygon points="220.89,419.28 221.71,421.35 223.93,421.49 222.22,422.91 222.77,425.07 220.89,423.88 219.01,425.07 219.56,422.91 217.84,421.49 220.07,421.35" stroke="#1cc6d0" stroke-width="1.2" fill="#fff" stroke-linejoin="miter"/>
<polygon points="235.67,419.28 236.49,421.35 238.71,421.49 237.00,422.91 237.55,425.07 235.67,423.88 233.79,425.07 234.33,422.91 232.62,421.49 234.84,421.35" stroke="#1cc6d0" stroke-width="1.2" fill="#fff" stroke-linejoin="miter"/>
<polygon points="250.44,419.28 251.27,421.35 253.49,421.49 251.78,422.91 252.32,425.07 250.44,423.88 248.56,425.07 249.11,422.91 247.40,421.49 249.62,421.35" stroke="#1cc6d0" stroke-width="1.2" fill="#fff" stroke-linejoin="miter"/>
<polygon points="265.22,419.28 266.04,421.35 268.27,421.49 266.55,422.91 267.10,425.07 265.22,423.88 263.34,425.07 263.89,422.91 262.18,421.49 264.40,421.35" stroke="#1cc6d0" stroke-width="1.2" fill="#fff" stroke-linejoin="miter"/>
<polygon points="280.00,419.28 280.82,421.35 283.04,421.49 281.33,422.91 281.88,425.07 280.00,423.88 278.12,425.07 278.67,422.91 276.96,421.49 279.18,421.35" stroke="#1cc6d0" stroke-width="1.2" fill="#fff" stroke-linejoin="miter"/>
<polygon points="289.85,419.28 290.67,421.35 292.90,421.49 291.18,422.91 291.73,425.07 289.85,423.88 287.97,425.07 288.52,422.91 286.81,421.49 289.03,421.35" stroke="#1cc6d0" stroke-width="1.2" fill="#fff" stroke-linejoin="miter"/>
<polyline points="43.55,378.94 58.33,383.72 73.11,397.35 87.89,403.54 102.66,406.02 117.44,407.26 132.22,407.79 147.00,407.97 161.78,408.14 176.55,408.14 191.33,408.32 206.11,408.32 220.89,408.32 235.67,408.32 250.44,408.32 265.22,408.32 280.00,408.32 289.85,408.32" fill="none" stroke="#1294ff" stroke-width="1.8" stroke-linejoin="round"/>
<polygon points="43.55,375.64 46.69,377.92 45.49,381.61 41.61,381.61 40.41,377.92" stroke="#1294ff" stroke-width="1.2" fill="#fff" stroke-linejoin="miter"/>
<polygon points="58.33,380.42 61.47,382.70 60.27,386.39 56.39,386.39 55.19,382.70" stroke="#1294ff" stroke-width="1.2" fill="#fff" stroke-linejoin="miter"/>
<polygon points="73.11,394.05 76.25,396.33 75.05,400.02 71.17,400.02 69.97,396.33" stroke="#1294ff" stroke-width="1.2" fill="#fff" stroke-linejoin="miter"/>
<polygon points="87.89,400.24 91.02,402.52 89.83,406.21 85.95,406.21 84.75,402.52" stroke="#1294ff" stroke-width="1.2" fill="#fff" stroke-linejoin="miter"/>
<polygon points="102.66,402.72 105.80,405.00 104.60,408.69 100.72,408.69 99.53,405.00" stroke="#1294ff" stroke-width="1.2" fill="#fff" stroke-linejoin="miter"/>
<polygon points="117.44,403.96 120.58,406.24 119.38,409.93 115.50,409.93 114.30,406.24" stroke="#1294ff" stroke-width="1.2" fill="#fff" stroke-linejoin="miter"/>
<polygon points="132.22,404.49 135.36,406.77 134.16,410.46 130.28,410.46 129.08,406.77" stroke="#1294ff" stroke-width="1.2" fill="#fff" stroke-linejoin="miter"/>
<polygon points="147.00,404.67 150.14,406.95 148.94,410.64 145.06,410.64 143.86,406.95" stroke="#1294ff" stroke-width="1.2" fill="#fff" stroke-linejoin="miter"/>
<polygon points="161.78,404.84 164.91,407.13 163.72,410.81 159.84,410.81 158.64,407.13" stroke="#1294ff" stroke-width="1.2" fill="#fff" stroke-linejoin="miter"/>
<polygon points="176.55,404.84 179.69,407.13 178.49,410.81 174.61,410.81 173.42,407.13" stroke="#1294ff" stroke-width="1.2" fill="#fff" stroke-linejoin="miter"/>
<polygon points="191.33,405.02 194.47,407.30 193.27,410.99 189.39,410.99 188.19,407.30" stroke="#1294ff" stroke-width="1.2" fill="#fff" stroke-linejoin="miter"/>
<polygon points="206.11,405.02 209.25,407.30 208.05,410.99 204.17,410.99 202.97,407.30" stroke="#1294ff" stroke-width="1.2" fill="#fff" stroke-linejoin="miter"/>
<polygon points="220.89,405.02 224.03,407.30 222.83,410.99 218.95,410.99 217.75,407.30" stroke="#1294ff" stroke-width="1.2" fill="#fff" stroke-linejoin="miter"/>
<polygon points="235.67,405.02 238.80,407.30 237.61,410.99 233.73,410.99 232.53,407.30" stroke="#1294ff" stroke-width="1.2" fill="#fff" stroke-linejoin="miter"/>
<polygon points="250.44,405.02 253.58,407.30 252.38,410.99 248.50,410.99 247.31,407.30" stroke="#1294ff" stroke-width="1.2" fill="#fff" stroke-linejoin="miter"/>
<polygon points="265.22,405.02 268.36,407.30 267.16,410.99 263.28,410.99 262.08,407.30" stroke="#1294ff" stroke-width="1.2" fill="#fff" stroke-linejoin="miter"/>
<polygon points="280.00,405.02 283.14,407.30 281.94,410.99 278.06,410.99 276.86,407.30" stroke="#1294ff" stroke-width="1.2" fill="#fff" stroke-linejoin="miter"/>
<polygon points="289.85,405.02 292.99,407.30 291.79,410.99 287.91,410.99 286.71,407.30" stroke="#1294ff" stroke-width="1.2" fill="#fff" stroke-linejoin="miter"/>
<polyline points="43.55,395.58 58.33,343.72 73.11,333.27 87.89,314.51 102.66,342.83 117.44,347.43 132.22,345.13 147.00,340.00 161.78,349.20 176.55,353.45 191.33,356.11 206.11,357.70 220.89,359.12 235.67,360.18 250.44,361.06 265.22,361.77 280.00,362.48 289.85,363.01" fill="none" stroke="#1424f0" stroke-width="1.8" stroke-linejoin="round"/>
<path d="M40.15 395.58H46.95M43.55 391.98V399.18" stroke="#1424f0" stroke-width="1.4" fill="none"/>
<path d="M54.93 343.72H61.73M58.33 340.12V347.32" stroke="#1424f0" stroke-width="1.4" fill="none"/>
<path d="M69.71 333.27H76.51M73.11 329.67V336.87" stroke="#1424f0" stroke-width="1.4" fill="none"/>
<path d="M84.49 314.51H91.29M87.89 310.91V318.11" stroke="#1424f0" stroke-width="1.4" fill="none"/>
<path d="M99.26 342.83H106.06M102.66 339.23V346.43" stroke="#1424f0" stroke-width="1.4" fill="none"/>
<path d="M114.04 347.43H120.84M117.44 343.83V351.03" stroke="#1424f0" stroke-width="1.4" fill="none"/>
<path d="M128.82 345.13H135.62M132.22 341.53V348.73" stroke="#1424f0" stroke-width="1.4" fill="none"/>
<path d="M143.60 340.00H150.40M147.00 336.40V343.60" stroke="#1424f0" stroke-width="1.4" fill="none"/>
<path d="M158.38 349.20H165.18M161.78 345.60V352.80" stroke="#1424f0" stroke-width="1.4" fill="none"/>
<path d="M173.15 353.45H179.95M176.55 349.85V357.05" stroke="#1424f0" stroke-width="1.4" fill="none"/>
<path d="M187.93 356.11H194.73M191.33 352.51V359.71" stroke="#1424f0" stroke-width="1.4" fill="none"/>
<path d="M202.71 357.70H209.51M206.11 354.10V361.30" stroke="#1424f0" stroke-width="1.4" fill="none"/>
<path d="M217.49 359.12H224.29M220.89 355.52V362.72" stroke="#1424f0" stroke-width="1.4" fill="none"/>
<path d="M232.27 360.18H239.07M235.67 356.58V363.78" stroke="#1424f0" stroke-width="1.4" fill="none"/>
<path d="M247.04 361.06H253.84M250.44 357.46V364.66" stroke="#1424f0" stroke-width="1.4" fill="none"/>
<path d="M261.82 361.77H268.62M265.22 358.17V365.37" stroke="#1424f0" stroke-width="1.4" fill="none"/>
<path d="M276.60 362.48H283.40M280.00 358.88V366.08" stroke="#1424f0" stroke-width="1.4" fill="none"/>
<path d="M286.45 363.01H293.25M289.85 359.41V366.61" stroke="#1424f0" stroke-width="1.4" fill="none"/>
</g>
<path d="M33.7 251.5H299.6V428.5H33.7Z" fill="none" stroke="#000" stroke-width="1.3"/>
<text x="68.18" y="440.80" font-size="11" text-anchor="middle" >200</text>
<text x="117.44" y="440.80" font-size="11" text-anchor="middle" >400</text>
<text x="166.70" y="440.80" font-size="11" text-anchor="middle" >600</text>
<text x="215.96" y="440.80" font-size="11" text-anchor="middle" >800</text>
<text x="265.22" y="440.80" font-size="11" text-anchor="middle" >1000</text>
<text x="30.10" y="432.40" font-size="11" text-anchor="end" >0.0</text>
<text x="30.10" y="397.00" font-size="11" text-anchor="end" >0.2</text>
<text x="30.10" y="361.60" font-size="11" text-anchor="end" >0.4</text>
<text x="30.10" y="326.20" font-size="11" text-anchor="end" >0.6</text>
<text x="30.10" y="290.80" font-size="11" text-anchor="end" >0.8</text>
<text x="30.10" y="255.40" font-size="11" text-anchor="end" >1.0</text>
<path d="M43.55 428.50v-1.8 M68.18 428.50v-2.8 M92.81 428.50v-1.8 M117.44 428.50v-2.8 M142.07 428.50v-1.8 M166.70 428.50v-2.8 M191.33 428.50v-1.8 M215.96 428.50v-2.8 M240.59 428.50v-1.8 M265.22 428.50v-2.8 M289.85 428.50v-1.8 M33.70 428.50h2.8 M33.70 410.80h1.8 M33.70 393.10h2.8 M33.70 375.40h1.8 M33.70 357.70h2.8 M33.70 340.00h1.8 M33.70 322.30h2.8 M33.70 304.60h1.8 M33.70 286.90h2.8 M33.70 269.20h1.8 M33.70 251.50h2.8" stroke="#000" stroke-width="1"/>
<text x="114.00" y="454.30" font-size="11.35" text-anchor="start" >Wavelength (nm)</text>
<text transform="translate(9.2,349.0) rotate(-90)" font-size="11.35" text-anchor="middle">Reflectivity</text>
<clipPath id="clipd"><rect x="350.1" y="254.4" width="266.1" height="176.70000000000002"/></clipPath>
<text x="388.60" y="290.20" font-size="11.6" text-anchor="start" >(d)</text>
<g clip-path="url(#clipd)">
<polyline points="359.75,410.22 374.53,423.39 389.31,425.96 404.09,425.64 418.86,425.96 433.64,426.28 448.42,426.28 463.20,426.28 477.98,426.28 492.75,425.96 507.53,425.32 522.31,424.03 537.09,422.10 551.87,420.50 566.64,419.53 581.42,420.50 596.20,420.50 606.05,421.46" fill="none" stroke="#ff0a8c" stroke-width="1.8" stroke-linejoin="round"/>
<rect x="357.05" y="407.52" width="5.40" height="5.40" stroke="#ff0a8c" stroke-width="1.2" fill="#fff"/>
<rect x="371.83" y="420.69" width="5.40" height="5.40" stroke="#ff0a8c" stroke-width="1.2" fill="#fff"/>
<rect x="386.61" y="423.26" width="5.40" height="5.40" stroke="#ff0a8c" stroke-width="1.2" fill="#fff"/>
<rect x="401.39" y="422.94" width="5.40" height="5.40" stroke="#ff0a8c" stroke-width="1.2" fill="#fff"/>
<rect x="416.16" y="423.26" width="5.40" height="5.40" stroke="#ff0a8c" stroke-width="1.2" fill="#fff"/>
<rect x="430.94" y="423.58" width="5.40" height="5.40" stroke="#ff0a8c" stroke-width="1.2" fill="#fff"/>
<rect x="445.72" y="423.58" width="5.40" height="5.40" stroke="#ff0a8c" stroke-width="1.2" fill="#fff"/>
<rect x="460.50" y="423.58" width="5.40" height="5.40" stroke="#ff0a8c" stroke-width="1.2" fill="#fff"/>
<rect x="475.28" y="423.58" width="5.40" height="5.40" stroke="#ff0a8c" stroke-width="1.2" fill="#fff"/>
<rect x="490.05" y="423.26" width="5.40" height="5.40" stroke="#ff0a8c" stroke-width="1.2" fill="#fff"/>
<rect x="504.83" y="422.62" width="5.40" height="5.40" stroke="#ff0a8c" stroke-width="1.2" fill="#fff"/>
<rect x="519.61" y="421.33" width="5.40" height="5.40" stroke="#ff0a8c" stroke-width="1.2" fill="#fff"/>
<rect x="534.39" y="419.40" width="5.40" height="5.40" stroke="#ff0a8c" stroke-width="1.2" fill="#fff"/>
<rect x="549.17" y="417.80" width="5.40" height="5.40" stroke="#ff0a8c" stroke-width="1.2" fill="#fff"/>
<rect x="563.94" y="416.83" width="5.40" height="5.40" stroke="#ff0a8c" stroke-width="1.2" fill="#fff"/>
<rect x="578.72" y="417.80" width="5.40" height="5.40" stroke="#ff0a8c" stroke-width="1.2" fill="#fff"/>
<rect x="593.50" y="417.80" width="5.40" height="5.40" stroke="#ff0a8c" stroke-width="1.2" fill="#fff"/>
<rect x="603.35" y="418.76" width="5.40" height="5.40" stroke="#ff0a8c" stroke-width="1.2" fill="#fff"/>
<polyline points="359.75,411.50 374.53,410.22 389.31,413.43 404.09,403.47 418.86,399.29 433.64,403.79 448.42,397.37 463.20,396.08 477.98,392.55 492.75,400.26 507.53,405.40 522.31,406.68 537.09,393.83 551.87,397.37 566.64,400.26 581.42,403.47 596.20,405.40 606.05,406.36" fill="none" stroke="#ff2424" stroke-width="1.8" stroke-linejoin="round"/>
<circle cx="359.75" cy="411.50" r="2.8" stroke="#ff2424" stroke-width="1.2" fill="#fff"/>
<circle cx="374.53" cy="410.22" r="2.8" stroke="#ff2424" stroke-width="1.2" fill="#fff"/>
<circle cx="389.31" cy="413.43" r="2.8" stroke="#ff2424" stroke-width="1.2" fill="#fff"/>
<circle cx="404.09" cy="403.47" r="2.8" stroke="#ff2424" stroke-width="1.2" fill="#fff"/>
<circle cx="418.86" cy="399.29" r="2.8" stroke="#ff2424" stroke-width="1.2" fill="#fff"/>
<circle cx="433.64" cy="403.79" r="2.8" stroke="#ff2424" stroke-width="1.2" fill="#fff"/>
<circle cx="448.42" cy="397.37" r="2.8" stroke="#ff2424" stroke-width="1.2" fill="#fff"/>
<circle cx="463.20" cy="396.08" r="2.8" stroke="#ff2424" stroke-width="1.2" fill="#fff"/>
<circle cx="477.98" cy="392.55" r="2.8" stroke="#ff2424" stroke-width="1.2" fill="#fff"/>
<circle cx="492.75" cy="400.26" r="2.8" stroke="#ff2424" stroke-width="1.2" fill="#fff"/>
<circle cx="507.53" cy="405.40" r="2.8" stroke="#ff2424" stroke-width="1.2" fill="#fff"/>
<circle cx="522.31" cy="406.68" r="2.8" stroke="#ff2424" stroke-width="1.2" fill="#fff"/>
<circle cx="537.09" cy="393.83" r="2.8" stroke="#ff2424" stroke-width="1.2" fill="#fff"/>
<circle cx="551.87" cy="397.37" r="2.8" stroke="#ff2424" stroke-width="1.2" fill="#fff"/>
<circle cx="566.64" cy="400.26" r="2.8" stroke="#ff2424" stroke-width="1.2" fill="#fff"/>
<circle cx="581.42" cy="403.47" r="2.8" stroke="#ff2424" stroke-width="1.2" fill="#fff"/>
<circle cx="596.20" cy="405.40" r="2.8" stroke="#ff2424" stroke-width="1.2" fill="#fff"/>
<circle cx="606.05" cy="406.36" r="2.8" stroke="#ff2424" stroke-width="1.2" fill="#fff"/>
<polyline points="359.75,412.79 374.53,407.97 389.31,416.00 404.09,412.47 418.86,411.82 433.64,411.82 448.42,411.18 463.20,410.22 477.98,409.25 492.75,407.97 507.53,406.36 522.31,405.08 537.09,403.79 551.87,403.47 566.64,401.86 581.42,400.58 596.20,399.94 606.05,399.29" fill="none" stroke="#ff8024" stroke-width="1.8" stroke-linejoin="round"/>
<polygon points="359.75,409.39 363.05,415.19 356.45,415.19" stroke="#ff8024" stroke-width="1.2" fill="#fff" stroke-linejoin="miter"/>
<polygon points="374.53,404.57 377.83,410.37 371.23,410.37" stroke="#ff8024" stroke-width="1.2" fill="#fff" stroke-linejoin="miter"/>
<polygon points="389.31,412.60 392.61,418.40 386.01,418.40" stroke="#ff8024" stroke-width="1.2" fill="#fff" stroke-linejoin="miter"/>
<polygon points="404.09,409.07 407.39,414.87 400.79,414.87" stroke="#ff8024" stroke-width="1.2" fill="#fff" stroke-linejoin="miter"/>
<polygon points="418.86,408.42 422.16,414.22 415.56,414.22" stroke="#ff8024" stroke-width="1.2" fill="#fff" stroke-linejoin="miter"/>
<polygon points="433.64,408.42 436.94,414.22 430.34,414.22" stroke="#ff8024" stroke-width="1.2" fill="#fff" stroke-linejoin="miter"/>
<polygon points="448.42,407.78 451.72,413.58 445.12,413.58" stroke="#ff8024" stroke-width="1.2" fill="#fff" stroke-linejoin="miter"/>
<polygon points="463.20,406.82 466.50,412.62 459.90,412.62" stroke="#ff8024" stroke-width="1.2" fill="#fff" stroke-linejoin="miter"/>
<polygon points="477.98,405.85 481.28,411.65 474.68,411.65" stroke="#ff8024" stroke-width="1.2" fill="#fff" stroke-linejoin="miter"/>
<polygon points="492.75,404.57 496.05,410.37 489.45,410.37" stroke="#ff8024" stroke-width="1.2" fill="#fff" stroke-linejoin="miter"/>
<polygon points="507.53,402.96 510.83,408.76 504.23,408.76" stroke="#ff8024" stroke-width="1.2" fill="#fff" stroke-linejoin="miter"/>
<polygon points="522.31,401.68 525.61,407.48 519.01,407.48" stroke="#ff8024" stroke-width="1.2" fill="#fff" stroke-linejoin="miter"/>
<polygon points="537.09,400.39 540.39,406.19 533.79,406.19" stroke="#ff8024" stroke-width="1.2" fill="#fff" stroke-linejoin="miter"/>
<polygon points="551.87,400.07 555.17,405.87 548.57,405.87" stroke="#ff8024" stroke-width="1.2" fill="#fff" stroke-linejoin="miter"/>
<polygon points="566.64,398.46 569.94,404.26 563.34,404.26" stroke="#ff8024" stroke-width="1.2" fill="#fff" stroke-linejoin="miter"/>
<polygon points="581.42,397.18 584.72,402.98 578.12,402.98" stroke="#ff8024" stroke-width="1.2" fill="#fff" stroke-linejoin="miter"/>
<polygon points="596.20,396.54 599.50,402.34 592.90,402.34" stroke="#ff8024" stroke-width="1.2" fill="#fff" stroke-linejoin="miter"/>
<polygon points="606.05,395.89 609.35,401.69 602.75,401.69" stroke="#ff8024" stroke-width="1.2" fill="#fff" stroke-linejoin="miter"/>
<polyline points="359.75,422.75 374.53,422.10 389.31,421.46 404.09,421.78 418.86,418.89 433.64,415.68 448.42,417.29 463.20,419.53 477.98,421.46 492.75,422.43 507.53,422.75 522.31,423.39 537.09,423.39 551.87,423.39 566.64,423.39 581.42,423.39 596.20,423.71 606.05,423.71" fill="none" stroke="#e9a81c" stroke-width="1.8" stroke-linejoin="round"/>
<polygon points="359.75,426.15 363.05,420.35 356.45,420.35" stroke="#e9a81c" stroke-width="1.2" fill="#fff" stroke-linejoin="miter"/>
<polygon points="374.53,425.50 377.83,419.70 371.23,419.70" stroke="#e9a81c" stroke-width="1.2" fill="#fff" stroke-linejoin="miter"/>
<polygon points="389.31,424.86 392.61,419.06 386.01,419.06" stroke="#e9a81c" stroke-width="1.2" fill="#fff" stroke-linejoin="miter"/>
<polygon points="404.09,425.18 407.39,419.38 400.79,419.38" stroke="#e9a81c" stroke-width="1.2" fill="#fff" stroke-linejoin="miter"/>
<polygon points="418.86,422.29 422.16,416.49 415.56,416.49" stroke="#e9a81c" stroke-width="1.2" fill="#fff" stroke-linejoin="miter"/>
<polygon points="433.64,419.08 436.94,413.28 430.34,413.28" stroke="#e9a81c" stroke-width="1.2" fill="#fff" stroke-linejoin="miter"/>
<polygon points="448.42,420.69 451.72,414.89 445.12,414.89" stroke="#e9a81c" stroke-width="1.2" fill="#fff" stroke-linejoin="miter"/>
<polygon points="463.20,422.93 466.50,417.13 459.90,417.13" stroke="#e9a81c" stroke-width="1.2" fill="#fff" stroke-linejoin="miter"/>
<polygon points="477.98,424.86 481.28,419.06 474.68,419.06" stroke="#e9a81c" stroke-width="1.2" fill="#fff" stroke-linejoin="miter"/>
<polygon points="492.75,425.83 496.05,420.03 489.45,420.03" stroke="#e9a81c" stroke-width="1.2" fill="#fff" stroke-linejoin="miter"/>
<polygon points="507.53,426.15 510.83,420.35 504.23,420.35" stroke="#e9a81c" stroke-width="1.2" fill="#fff" stroke-linejoin="miter"/>
<polygon points="522.31,426.79 525.61,420.99 519.01,420.99" stroke="#e9a81c" stroke-width="1.2" fill="#fff" stroke-linejoin="miter"/>
<polygon points="537.09,426.79 540.39,420.99 533.79,420.99" stroke="#e9a81c" stroke-width="1.2" fill="#fff" stroke-linejoin="miter"/>
<polygon points="551.87,426.79 555.17,420.99 548.57,420.99" stroke="#e9a81c" stroke-width="1.2" fill="#fff" stroke-linejoin="miter"/>
<polygon points="566.64,426.79 569.94,420.99 563.34,420.99" stroke="#e9a81c" stroke-width="1.2" fill="#fff" stroke-linejoin="miter"/>
<polygon points="581.42,426.79 584.72,420.99 578.12,420.99" stroke="#e9a81c" stroke-width="1.2" fill="#fff" stroke-linejoin="miter"/>
<polygon points="596.20,427.11 599.50,421.31 592.90,421.31" stroke="#e9a81c" stroke-width="1.2" fill="#fff" stroke-linejoin="miter"/>
<polygon points="606.05,427.11 609.35,421.31 602.75,421.31" stroke="#e9a81c" stroke-width="1.2" fill="#fff" stroke-linejoin="miter"/>
<polyline points="359.75,424.03 374.53,426.28 389.31,429.49 404.09,437.53 418.86,407.00 433.64,199.78 448.42,-516.65 463.20,-516.65 477.98,-516.65 492.75,-516.65 507.53,-516.65 522.31,-516.65 537.09,-516.65 551.87,-516.65 566.64,-516.65 581.42,-516.65 596.20,-516.65 606.05,-516.65" fill="none" stroke="#e4d61e" stroke-width="1.8" stroke-linejoin="round"/>
<polygon points="359.75,420.43 363.05,424.03 359.75,427.63 356.45,424.03" stroke="#e4d61e" stroke-width="1.2" fill="#fff" stroke-linejoin="miter"/>
<polygon points="374.53,422.68 377.83,426.28 374.53,429.88 371.23,426.28" stroke="#e4d61e" stroke-width="1.2" fill="#fff" stroke-linejoin="miter"/>
<polygon points="389.31,425.89 392.61,429.49 389.31,433.09 386.01,429.49" stroke="#e4d61e" stroke-width="1.2" fill="#fff" stroke-linejoin="miter"/>
<polygon points="418.86,403.40 422.16,407.00 418.86,410.60 415.56,407.00" stroke="#e4d61e" stroke-width="1.2" fill="#fff" stroke-linejoin="miter"/>
<polyline points="359.75,399.29 374.53,393.83 389.31,400.90 404.09,393.51 418.86,401.86 433.64,399.29 448.42,396.08 463.20,394.15 477.98,393.19 492.75,391.26 507.53,389.33 522.31,387.41 537.09,383.87 551.87,378.41 566.64,373.59 581.42,369.09 596.20,365.88 606.05,363.63" fill="none" stroke="#9ee02a" stroke-width="1.8" stroke-linejoin="round"/>
<polygon points="356.35,399.29 362.15,395.99 362.15,402.59" stroke="#9ee02a" stroke-width="1.2" fill="#fff" stroke-linejoin="miter"/>
<polygon points="371.13,393.83 376.93,390.53 376.93,397.13" stroke="#9ee02a" stroke-width="1.2" fill="#fff" stroke-linejoin="miter"/>
<polygon points="385.91,400.90 391.71,397.60 391.71,404.20" stroke="#9ee02a" stroke-width="1.2" fill="#fff" stroke-linejoin="miter"/>
<polygon points="400.69,393.51 406.49,390.21 406.49,396.81" stroke="#9ee02a" stroke-width="1.2" fill="#fff" stroke-linejoin="miter"/>
<polygon points="415.46,401.86 421.26,398.56 421.26,405.16" stroke="#9ee02a" stroke-width="1.2" fill="#fff" stroke-linejoin="miter"/>
<polygon points="430.24,399.29 436.04,395.99 436.04,402.59" stroke="#9ee02a" stroke-width="1.2" fill="#fff" stroke-linejoin="miter"/>
<polygon points="445.02,396.08 450.82,392.78 450.82,399.38" stroke="#9ee02a" stroke-width="1.2" fill="#fff" stroke-linejoin="miter"/>
<polygon points="459.80,394.15 465.60,390.85 465.60,397.45" stroke="#9ee02a" stroke-width="1.2" fill="#fff" stroke-linejoin="miter"/>
<polygon points="474.58,393.19 480.38,389.89 480.38,396.49" stroke="#9ee02a" stroke-width="1.2" fill="#fff" stroke-linejoin="miter"/>
<polygon points="489.35,391.26 495.15,387.96 495.15,394.56" stroke="#9ee02a" stroke-width="1.2" fill="#fff" stroke-linejoin="miter"/>
<polygon points="504.13,389.33 509.93,386.03 509.93,392.63" stroke="#9ee02a" stroke-width="1.2" fill="#fff" stroke-linejoin="miter"/>
<polygon points="518.91,387.41 524.71,384.11 524.71,390.71" stroke="#9ee02a" stroke-width="1.2" fill="#fff" stroke-linejoin="miter"/>
<polygon points="533.69,383.87 539.49,380.57 539.49,387.17" stroke="#9ee02a" stroke-width="1.2" fill="#fff" stroke-linejoin="miter"/>
<polygon points="548.47,378.41 554.27,375.11 554.27,381.71" stroke="#9ee02a" stroke-width="1.2" fill="#fff" stroke-linejoin="miter"/>
<polygon points="563.24,373.59 569.04,370.29 569.04,376.89" stroke="#9ee02a" stroke-width="1.2" fill="#fff" stroke-linejoin="miter"/>
<polygon points="578.02,369.09 583.82,365.79 583.82,372.39" stroke="#9ee02a" stroke-width="1.2" fill="#fff" stroke-linejoin="miter"/>
<polygon points="592.80,365.88 598.60,362.58 598.60,369.18" stroke="#9ee02a" stroke-width="1.2" fill="#fff" stroke-linejoin="miter"/>
<polygon points="602.65,363.63 608.45,360.33 608.45,366.93" stroke="#9ee02a" stroke-width="1.2" fill="#fff" stroke-linejoin="miter"/>
<polyline points="359.75,429.17 374.53,427.57 389.31,428.85 404.09,426.60 418.86,423.39 433.64,425.96 448.42,424.35 463.20,420.82 477.98,421.46 492.75,422.43 507.53,423.39 522.31,424.35 537.09,425.32 551.87,425.96 566.64,425.96 581.42,425.96 596.20,425.64 606.05,424.67" fill="none" stroke="#12d012" stroke-width="1.8" stroke-linejoin="round"/>
<polygon points="363.15,429.17 357.35,425.87 357.35,432.47" stroke="#12d012" stroke-width="1.2" fill="#fff" stroke-linejoin="miter"/>
<polygon points="377.93,427.57 372.13,424.27 372.13,430.87" stroke="#12d012" stroke-width="1.2" fill="#fff" stroke-linejoin="miter"/>
<polygon points="392.71,428.85 386.91,425.55 386.91,432.15" stroke="#12d012" stroke-width="1.2" fill="#fff" stroke-linejoin="miter"/>
<polygon points="407.49,426.60 401.69,423.30 401.69,429.90" stroke="#12d012" stroke-width="1.2" fill="#fff" stroke-linejoin="miter"/>
<polygon points="422.26,423.39 416.46,420.09 416.46,426.69" stroke="#12d012" stroke-width="1.2" fill="#fff" stroke-linejoin="miter"/>
<polygon points="437.04,425.96 431.24,422.66 431.24,429.26" stroke="#12d012" stroke-width="1.2" fill="#fff" stroke-linejoin="miter"/>
<polygon points="451.82,424.35 446.02,421.05 446.02,427.65" stroke="#12d012" stroke-width="1.2" fill="#fff" stroke-linejoin="miter"/>
<polygon points="466.60,420.82 460.80,417.52 460.80,424.12" stroke="#12d012" stroke-width="1.2" fill="#fff" stroke-linejoin="miter"/>
<polygon points="481.38,421.46 475.58,418.16 475.58,424.76" stroke="#12d012" stroke-width="1.2" fill="#fff" stroke-linejoin="miter"/>
<polygon points="496.15,422.43 490.35,419.13 490.35,425.73" stroke="#12d012" stroke-width="1.2" fill="#fff" stroke-linejoin="miter"/>
<polygon points="510.93,423.39 505.13,420.09 505.13,426.69" stroke="#12d012" stroke-width="1.2" fill="#fff" stroke-linejoin="miter"/>
<polygon points="525.71,424.35 519.91,421.05 519.91,427.65" stroke="#12d012" stroke-width="1.2" fill="#fff" stroke-linejoin="miter"/>
<polygon points="540.49,425.32 534.69,422.02 534.69,428.62" stroke="#12d012" stroke-width="1.2" fill="#fff" stroke-linejoin="miter"/>
<polygon points="555.27,425.96 549.47,422.66 549.47,429.26" stroke="#12d012" stroke-width="1.2" fill="#fff" stroke-linejoin="miter"/>
<polygon points="570.04,425.96 564.24,422.66 564.24,429.26" stroke="#12d012" stroke-width="1.2" fill="#fff" stroke-linejoin="miter"/>
<polygon points="584.82,425.96 579.02,422.66 579.02,429.26" stroke="#12d012" stroke-width="1.2" fill="#fff" stroke-linejoin="miter"/>
<polygon points="599.60,425.64 593.80,422.34 593.80,428.94" stroke="#12d012" stroke-width="1.2" fill="#fff" stroke-linejoin="miter"/>
<polygon points="609.45,424.67 603.65,421.37 603.65,427.97" stroke="#12d012" stroke-width="1.2" fill="#fff" stroke-linejoin="miter"/>
<polyline points="359.75,418.25 374.53,-63807.38 389.31,-63807.38 404.09,-63807.38 418.86,-63807.38 433.64,-63807.38 448.42,-63807.38 463.20,-63807.38 477.98,-63807.38 492.75,-63807.38 507.53,-63807.38 522.31,-63807.38 537.09,-63807.38 551.87,-63807.38 566.64,-63807.38 581.42,-63807.38 596.20,-63807.38 606.05,-63807.38" fill="none" stroke="#1cd68c" stroke-width="1.8" stroke-linejoin="round"/>
<circle cx="359.75" cy="418.25" r="2.8" stroke="#1cd68c" stroke-width="1.2" fill="#fff"/>
<polyline points="359.75,415.68 374.53,-63807.38 389.31,-63807.38 404.09,-63807.38 418.86,-63807.38 433.64,-63807.38 448.42,-63807.38 463.20,-63807.38 477.98,-63807.38 492.75,-63807.38 507.53,-63807.38 522.31,-63807.38 537.09,-63807.38 551.87,-63807.38 566.64,-63807.38 581.42,-63807.38 596.20,-63807.38 606.05,-63807.38" fill="none" stroke="#1cc6d0" stroke-width="1.8" stroke-linejoin="round"/>
<polygon points="359.75,412.48 360.57,414.55 362.80,414.69 361.08,416.11 361.63,418.27 359.75,417.08 357.87,418.27 358.42,416.11 356.71,414.69 358.93,414.55" stroke="#1cc6d0" stroke-width="1.2" fill="#fff" stroke-linejoin="miter"/>
<polyline points="359.75,428.85 374.53,399.94 389.31,-902.18 404.09,-9191.02 418.86,-9191.02 433.64,-9191.02 448.42,-9191.02 463.20,-9191.02 477.98,-9191.02 492.75,-9191.02 507.53,-9191.02 522.31,-9191.02 537.09,-9191.02 551.87,-9191.02 566.64,-9191.02 581.42,-9191.02 596.20,-9191.02 606.05,-9191.02" fill="none" stroke="#1294ff" stroke-width="1.8" stroke-linejoin="round"/>
<polygon points="359.75,425.55 362.89,427.83 361.69,431.52 357.81,431.52 356.61,427.83" stroke="#1294ff" stroke-width="1.2" fill="#fff" stroke-linejoin="miter"/>
<polygon points="374.53,396.64 377.67,398.92 376.47,402.61 372.59,402.61 371.39,398.92" stroke="#1294ff" stroke-width="1.2" fill="#fff" stroke-linejoin="miter"/>
<polyline points="359.75,417.29 374.53,424.03 389.31,425.96 404.09,429.81 418.86,411.82 433.64,393.51 448.42,390.62 463.20,361.71 477.98,219.06 492.75,52.00 507.53,-516.65 522.31,-516.65 537.09,-516.65 551.87,-516.65 566.64,-516.65 581.42,-516.65 596.20,-516.65 606.05,-516.65" fill="none" stroke="#1424f0" stroke-width="1.8" stroke-linejoin="round"/>
<path d="M356.35 417.29H363.15M359.75 413.69V420.89" stroke="#1424f0" stroke-width="1.4" fill="none"/>
<path d="M371.13 424.03H377.93M374.53 420.43V427.63" stroke="#1424f0" stroke-width="1.4" fill="none"/>
<path d="M385.91 425.96H392.71M389.31 422.36V429.56" stroke="#1424f0" stroke-width="1.4" fill="none"/>
<path d="M400.69 429.81H407.49M404.09 426.21V433.41" stroke="#1424f0" stroke-width="1.4" fill="none"/>
<path d="M415.46 411.82H422.26M418.86 408.22V415.42" stroke="#1424f0" stroke-width="1.4" fill="none"/>
<path d="M430.24 393.51H437.04M433.64 389.91V397.11" stroke="#1424f0" stroke-width="1.4" fill="none"/>
<path d="M445.02 390.62H451.82M448.42 387.02V394.22" stroke="#1424f0" stroke-width="1.4" fill="none"/>
<path d="M459.80 361.71H466.60M463.20 358.11V365.31" stroke="#1424f0" stroke-width="1.4" fill="none"/>
</g>
<path d="M616.2 254.4H350.1V431.1H616.2" fill="none" stroke="#000" stroke-width="1.3"/>
<path d="M616.1 253.8V431.70000000000005" stroke="#6c6c6c" stroke-width="1.8"/>
<text x="384.38" y="443.40" font-size="11" text-anchor="middle" >200</text>
<text x="433.64" y="443.40" font-size="11" text-anchor="middle" >400</text>
<text x="482.90" y="443.40" font-size="11" text-anchor="middle" >600</text>
<text x="532.16" y="443.40" font-size="11" text-anchor="middle" >800</text>
<text x="581.42" y="443.40" font-size="11" text-anchor="middle" >1000</text>
<text x="346.50" y="386.81" font-size="11" text-anchor="end" >20</text>
<text x="346.50" y="322.55" font-size="11" text-anchor="end" >40</text>
<text x="346.50" y="258.30" font-size="11" text-anchor="end" >60</text>
<path d="M359.75 431.10v-1.8 M384.38 431.10v-2.8 M409.01 431.10v-1.8 M433.64 431.10v-2.8 M458.27 431.10v-1.8 M482.90 431.10v-2.8 M507.53 431.10v-1.8 M532.16 431.10v-2.8 M556.79 431.10v-1.8 M581.42 431.10v-2.8 M606.05 431.10v-1.8 M350.10 415.04h1.8 M350.10 382.91h2.8 M350.10 350.78h1.8 M350.10 318.65h2.8 M350.10 286.53h1.8 M350.10 254.40h2.8" stroke="#000" stroke-width="1"/>
<text x="437.70" y="454.10" font-size="11.35" text-anchor="start" >Wavelength (nm)</text>
<text transform="translate(325.0,348.1) rotate(-90)" font-size="10.7" text-anchor="middle">Penetration (nm)</text>
<rect x="71.6" y="0.6" width="518.8" height="23.3" fill="#fff" stroke="#7a7a7a" stroke-width="1.2"/>
<line x1="72.9" y1="11.8" x2="89.9" y2="11.8" stroke="#ff0a8c" stroke-width="2"/>
<rect x="78.70" y="9.10" width="5.40" height="5.40" stroke="#ff0a8c" stroke-width="1.2" fill="#fff"/>
<text x="93.20" y="14.90" font-size="11" text-anchor="start" >Al</text>
<line x1="109.4" y1="11.8" x2="126.4" y2="11.8" stroke="#ff2424" stroke-width="2"/>
<circle cx="117.90" cy="11.80" r="2.8" stroke="#ff2424" stroke-width="1.2" fill="#fff"/>
<text x="129.70" y="14.90" font-size="11" text-anchor="start" >Cu</text>
<line x1="148.6" y1="11.8" x2="165.6" y2="11.8" stroke="#ff8024" stroke-width="2"/>
<polygon points="157.10,8.40 160.40,14.20 153.80,14.20" stroke="#ff8024" stroke-width="1.2" fill="#fff" stroke-linejoin="miter"/>
<text x="168.90" y="14.90" font-size="11" text-anchor="start" >Co</text>
<line x1="187.4" y1="11.8" x2="204.4" y2="11.8" stroke="#e9a81c" stroke-width="2"/>
<polygon points="195.90,15.20 199.20,9.40 192.60,9.40" stroke="#e9a81c" stroke-width="1.2" fill="#fff" stroke-linejoin="miter"/>
<text x="207.70" y="14.90" font-size="11" text-anchor="start" >Ni</text>
<line x1="224.2" y1="11.8" x2="241.2" y2="11.8" stroke="#e4d61e" stroke-width="2"/>
<polygon points="232.70,8.20 236.00,11.80 232.70,15.40 229.40,11.80" stroke="#e4d61e" stroke-width="1.2" fill="#fff" stroke-linejoin="miter"/>
<text x="244.50" y="14.90" font-size="11" text-anchor="start" >Si</text>
<line x1="258.2" y1="11.8" x2="275.2" y2="11.8" stroke="#9ee02a" stroke-width="2"/>
<polygon points="263.30,11.80 269.10,8.50 269.10,15.10" stroke="#9ee02a" stroke-width="1.2" fill="#fff" stroke-linejoin="miter"/>
<text x="279.80" y="14.90" font-size="11" text-anchor="start" >Ti</text>
<line x1="293.4" y1="11.8" x2="310.4" y2="11.8" stroke="#12d012" stroke-width="2"/>
<polygon points="305.30,11.80 299.50,8.50 299.50,15.10" stroke="#12d012" stroke-width="1.2" fill="#fff" stroke-linejoin="miter"/>
<text x="315.30" y="14.90" font-size="11" text-anchor="start" >W</text>
<line x1="329.4" y1="11.8" x2="346.4" y2="11.8" stroke="#1cd68c" stroke-width="2"/>
<circle cx="337.90" cy="11.80" r="2.8" stroke="#1cd68c" stroke-width="1.2" fill="#fff"/>
<text x="349.70" y="14.90" font-size="11" text-anchor="start" >α-SiO<tspan dy="2.6" font-size="6.6">2</tspan></text>
<line x1="392.3" y1="11.8" x2="409.3" y2="11.8" stroke="#1cc6d0" stroke-width="2"/>
<polygon points="400.80,8.60 401.62,10.67 403.84,10.81 402.13,12.23 402.68,14.39 400.80,13.20 398.92,14.39 399.47,12.23 397.76,10.81 399.98,10.67" stroke="#1cc6d0" stroke-width="1.2" fill="#fff" stroke-linejoin="miter"/>
<text x="410.30" y="14.90" font-size="11" text-anchor="start" >g-SiO<tspan dy="2.6" font-size="6.6">2</tspan></text>
<line x1="453.2" y1="11.8" x2="470.2" y2="11.8" stroke="#1294ff" stroke-width="2"/>
<polygon points="461.70,8.50 464.84,10.78 463.64,14.47 459.76,14.47 458.56,10.78" stroke="#1294ff" stroke-width="1.2" fill="#fff" stroke-linejoin="miter"/>
<text x="472.30" y="14.90" font-size="11" text-anchor="start" >Si<tspan dy="2.6" font-size="6.6">3</tspan><tspan dy="-2.6">N</tspan><tspan dy="2.6" font-size="6.6">4</tspan></text>
<line x1="507.2" y1="11.8" x2="524.2" y2="11.8" stroke="#1424f0" stroke-width="2"/>
<path d="M512.30 11.80H519.10M515.70 8.20V15.40" stroke="#1424f0" stroke-width="1.4" fill="none"/>
<text x="526.70" y="14.90" font-size="11" text-anchor="start" >Si<tspan dy="2.6" font-size="6.6">0.25</tspan><tspan dy="-2.6">Ge</tspan><tspan dy="2.6" font-size="6.6">0.75</tspan></text>
</svg></body></html>
